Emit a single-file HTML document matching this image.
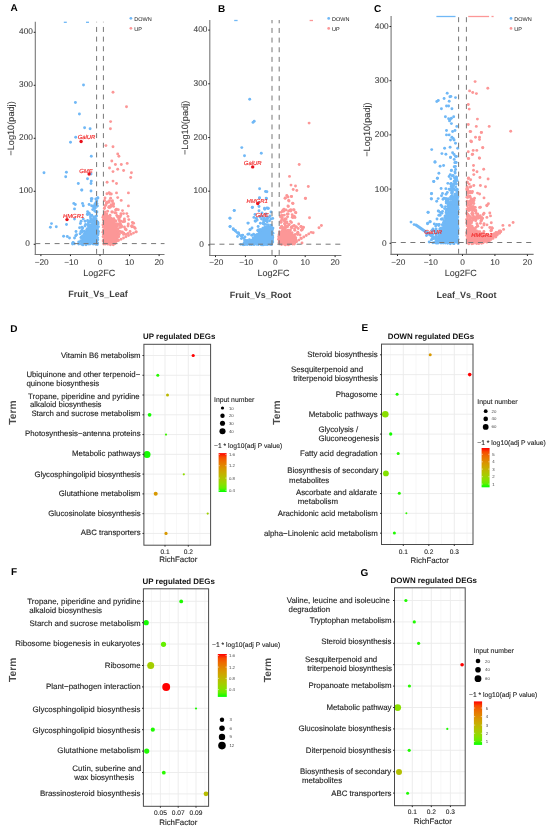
<!DOCTYPE html>
<html><head><meta charset="utf-8"><style>
html,body{margin:0;padding:0;background:#fff;}
svg{display:block;font-family:"Liberation Sans", sans-serif;filter:blur(0.3px);}
text{text-rendering:geometricPrecision;}

</style></head><body>
<svg width="550" height="829" viewBox="0 0 550 829">
<defs>
<linearGradient id="cb" x1="0" y1="0" x2="0" y2="1">
<stop offset="0.0" stop-color="#ff0000"/>
<stop offset="0.1" stop-color="#f74a00"/>
<stop offset="0.2" stop-color="#ed6a00"/>
<stop offset="0.3" stop-color="#e38200"/>
<stop offset="0.4" stop-color="#d79800"/>
<stop offset="0.5" stop-color="#c9ab00"/>
<stop offset="0.6" stop-color="#b8bd00"/>
<stop offset="0.7" stop-color="#a4ce00"/>
<stop offset="0.8" stop-color="#8adf00"/>
<stop offset="0.9" stop-color="#65ef00"/>
<stop offset="1.0" stop-color="#00ff00"/>
</linearGradient>
</defs>
<rect width="550" height="829" fill="#fff"/>
<rect x="63.80" y="21.65" width="3.00" height="1.30" fill="#70b8f6"/>
<rect x="86.00" y="21.65" width="3.00" height="1.30" fill="#70b8f6"/>
<circle cx="96.91" cy="203.60" r="1.45" fill="#70b8f6"/>
<circle cx="72.61" cy="243.94" r="1.45" fill="#70b8f6"/>
<circle cx="88.94" cy="213.25" r="1.45" fill="#70b8f6"/>
<circle cx="95.13" cy="207.89" r="1.45" fill="#70b8f6"/>
<circle cx="96.95" cy="212.01" r="1.45" fill="#70b8f6"/>
<circle cx="87.63" cy="240.81" r="1.45" fill="#70b8f6"/>
<circle cx="89.82" cy="240.42" r="1.45" fill="#70b8f6"/>
<circle cx="94.92" cy="224.71" r="1.45" fill="#70b8f6"/>
<circle cx="94.10" cy="224.39" r="1.45" fill="#70b8f6"/>
<circle cx="96.39" cy="233.38" r="1.45" fill="#70b8f6"/>
<circle cx="96.99" cy="223.62" r="1.45" fill="#70b8f6"/>
<circle cx="90.16" cy="225.78" r="1.45" fill="#70b8f6"/>
<circle cx="78.72" cy="241.97" r="1.45" fill="#70b8f6"/>
<circle cx="80.12" cy="233.71" r="1.45" fill="#70b8f6"/>
<circle cx="96.82" cy="227.59" r="1.45" fill="#70b8f6"/>
<circle cx="75.70" cy="235.79" r="1.45" fill="#70b8f6"/>
<circle cx="85.16" cy="221.31" r="1.45" fill="#70b8f6"/>
<circle cx="82.65" cy="228.07" r="1.45" fill="#70b8f6"/>
<circle cx="95.83" cy="211.44" r="1.45" fill="#70b8f6"/>
<circle cx="89.50" cy="221.83" r="1.45" fill="#70b8f6"/>
<circle cx="74.29" cy="243.83" r="1.45" fill="#70b8f6"/>
<circle cx="82.47" cy="240.69" r="1.45" fill="#70b8f6"/>
<circle cx="96.76" cy="221.06" r="1.45" fill="#70b8f6"/>
<circle cx="95.28" cy="205.06" r="1.45" fill="#70b8f6"/>
<circle cx="85.92" cy="234.41" r="1.45" fill="#70b8f6"/>
<circle cx="82.68" cy="235.92" r="1.45" fill="#70b8f6"/>
<circle cx="95.95" cy="218.65" r="1.45" fill="#70b8f6"/>
<circle cx="94.01" cy="220.43" r="1.45" fill="#70b8f6"/>
<circle cx="85.62" cy="224.47" r="1.45" fill="#70b8f6"/>
<circle cx="97.77" cy="231.95" r="1.45" fill="#70b8f6"/>
<circle cx="84.30" cy="231.18" r="1.45" fill="#70b8f6"/>
<circle cx="88.72" cy="213.63" r="1.45" fill="#70b8f6"/>
<circle cx="92.39" cy="235.53" r="1.45" fill="#70b8f6"/>
<circle cx="87.82" cy="241.31" r="1.45" fill="#70b8f6"/>
<circle cx="73.09" cy="242.46" r="1.45" fill="#70b8f6"/>
<circle cx="94.52" cy="205.49" r="1.45" fill="#70b8f6"/>
<circle cx="80.95" cy="231.54" r="1.45" fill="#70b8f6"/>
<circle cx="96.05" cy="236.21" r="1.45" fill="#70b8f6"/>
<circle cx="81.94" cy="232.26" r="1.45" fill="#70b8f6"/>
<circle cx="90.67" cy="218.83" r="1.45" fill="#70b8f6"/>
<circle cx="95.12" cy="227.36" r="1.45" fill="#70b8f6"/>
<circle cx="88.43" cy="243.32" r="1.45" fill="#70b8f6"/>
<circle cx="94.01" cy="207.97" r="1.45" fill="#70b8f6"/>
<circle cx="80.90" cy="237.60" r="1.45" fill="#70b8f6"/>
<circle cx="81.88" cy="227.09" r="1.45" fill="#70b8f6"/>
<circle cx="76.56" cy="234.72" r="1.45" fill="#70b8f6"/>
<circle cx="95.22" cy="222.92" r="1.45" fill="#70b8f6"/>
<circle cx="81.41" cy="236.88" r="1.45" fill="#70b8f6"/>
<circle cx="93.81" cy="220.96" r="1.45" fill="#70b8f6"/>
<circle cx="90.11" cy="235.42" r="1.45" fill="#70b8f6"/>
<circle cx="97.32" cy="205.95" r="1.45" fill="#70b8f6"/>
<circle cx="82.55" cy="238.09" r="1.45" fill="#70b8f6"/>
<circle cx="91.80" cy="215.18" r="1.45" fill="#70b8f6"/>
<circle cx="85.46" cy="242.57" r="1.45" fill="#70b8f6"/>
<circle cx="94.48" cy="225.12" r="1.45" fill="#70b8f6"/>
<circle cx="85.71" cy="233.09" r="1.45" fill="#70b8f6"/>
<circle cx="89.85" cy="234.91" r="1.45" fill="#70b8f6"/>
<circle cx="85.12" cy="241.10" r="1.45" fill="#70b8f6"/>
<circle cx="95.64" cy="216.36" r="1.45" fill="#70b8f6"/>
<circle cx="88.18" cy="231.77" r="1.45" fill="#70b8f6"/>
<circle cx="93.97" cy="220.87" r="1.45" fill="#70b8f6"/>
<circle cx="94.14" cy="218.51" r="1.45" fill="#70b8f6"/>
<circle cx="90.18" cy="221.70" r="1.45" fill="#70b8f6"/>
<circle cx="97.83" cy="197.70" r="1.45" fill="#70b8f6"/>
<circle cx="91.24" cy="224.66" r="1.45" fill="#70b8f6"/>
<circle cx="94.35" cy="208.21" r="1.45" fill="#70b8f6"/>
<circle cx="88.26" cy="224.50" r="1.45" fill="#70b8f6"/>
<circle cx="95.81" cy="199.05" r="1.45" fill="#70b8f6"/>
<circle cx="91.59" cy="205.74" r="1.45" fill="#70b8f6"/>
<circle cx="96.51" cy="223.59" r="1.45" fill="#70b8f6"/>
<circle cx="88.43" cy="222.63" r="1.45" fill="#70b8f6"/>
<circle cx="93.31" cy="219.57" r="1.45" fill="#70b8f6"/>
<circle cx="96.04" cy="202.53" r="1.45" fill="#70b8f6"/>
<circle cx="94.40" cy="223.59" r="1.45" fill="#70b8f6"/>
<circle cx="90.71" cy="215.45" r="1.45" fill="#70b8f6"/>
<circle cx="97.63" cy="198.20" r="1.45" fill="#70b8f6"/>
<circle cx="94.71" cy="211.03" r="1.45" fill="#70b8f6"/>
<circle cx="87.40" cy="214.19" r="1.45" fill="#70b8f6"/>
<circle cx="87.65" cy="214.61" r="1.45" fill="#70b8f6"/>
<circle cx="93.08" cy="206.52" r="1.45" fill="#70b8f6"/>
<circle cx="95.13" cy="206.91" r="1.45" fill="#70b8f6"/>
<circle cx="90.56" cy="220.61" r="1.45" fill="#70b8f6"/>
<circle cx="108.78" cy="230.04" r="1.45" fill="#fc9797"/>
<circle cx="124.10" cy="220.56" r="1.45" fill="#fc9797"/>
<circle cx="110.44" cy="234.67" r="1.45" fill="#fc9797"/>
<circle cx="103.50" cy="215.70" r="1.45" fill="#fc9797"/>
<circle cx="131.93" cy="226.72" r="1.45" fill="#fc9797"/>
<circle cx="104.51" cy="213.80" r="1.45" fill="#fc9797"/>
<circle cx="108.45" cy="235.79" r="1.45" fill="#fc9797"/>
<circle cx="107.47" cy="240.76" r="1.45" fill="#fc9797"/>
<circle cx="118.17" cy="223.84" r="1.45" fill="#fc9797"/>
<circle cx="114.58" cy="220.81" r="1.45" fill="#fc9797"/>
<circle cx="109.49" cy="200.67" r="1.45" fill="#fc9797"/>
<circle cx="128.01" cy="233.33" r="1.45" fill="#fc9797"/>
<circle cx="122.33" cy="231.84" r="1.45" fill="#fc9797"/>
<circle cx="107.39" cy="220.43" r="1.45" fill="#fc9797"/>
<circle cx="116.75" cy="215.43" r="1.45" fill="#fc9797"/>
<circle cx="118.11" cy="216.36" r="1.45" fill="#fc9797"/>
<circle cx="119.57" cy="221.12" r="1.45" fill="#fc9797"/>
<circle cx="121.34" cy="232.67" r="1.45" fill="#fc9797"/>
<circle cx="110.64" cy="226.40" r="1.45" fill="#fc9797"/>
<circle cx="121.54" cy="227.02" r="1.45" fill="#fc9797"/>
<circle cx="109.29" cy="206.65" r="1.45" fill="#fc9797"/>
<circle cx="114.75" cy="240.72" r="1.45" fill="#fc9797"/>
<circle cx="114.70" cy="225.88" r="1.45" fill="#fc9797"/>
<circle cx="113.40" cy="203.65" r="1.45" fill="#fc9797"/>
<circle cx="105.54" cy="235.62" r="1.45" fill="#fc9797"/>
<circle cx="125.68" cy="229.42" r="1.45" fill="#fc9797"/>
<circle cx="115.64" cy="210.12" r="1.45" fill="#fc9797"/>
<circle cx="105.66" cy="235.24" r="1.45" fill="#fc9797"/>
<circle cx="111.81" cy="212.04" r="1.45" fill="#fc9797"/>
<circle cx="105.66" cy="214.21" r="1.45" fill="#fc9797"/>
<circle cx="120.54" cy="231.79" r="1.45" fill="#fc9797"/>
<circle cx="104.32" cy="208.54" r="1.45" fill="#fc9797"/>
<circle cx="132.14" cy="226.06" r="1.45" fill="#fc9797"/>
<circle cx="117.29" cy="225.15" r="1.45" fill="#fc9797"/>
<circle cx="104.17" cy="225.72" r="1.45" fill="#fc9797"/>
<circle cx="106.49" cy="203.23" r="1.45" fill="#fc9797"/>
<circle cx="104.23" cy="219.11" r="1.45" fill="#fc9797"/>
<circle cx="107.99" cy="238.03" r="1.45" fill="#fc9797"/>
<circle cx="120.96" cy="213.59" r="1.45" fill="#fc9797"/>
<circle cx="108.81" cy="207.28" r="1.45" fill="#fc9797"/>
<circle cx="115.72" cy="230.95" r="1.45" fill="#fc9797"/>
<circle cx="103.66" cy="219.87" r="1.45" fill="#fc9797"/>
<circle cx="105.47" cy="233.38" r="1.45" fill="#fc9797"/>
<circle cx="109.11" cy="231.02" r="1.45" fill="#fc9797"/>
<circle cx="111.64" cy="230.35" r="1.45" fill="#fc9797"/>
<circle cx="116.08" cy="212.92" r="1.45" fill="#fc9797"/>
<circle cx="119.80" cy="223.72" r="1.45" fill="#fc9797"/>
<circle cx="123.00" cy="221.87" r="1.45" fill="#fc9797"/>
<circle cx="113.51" cy="230.48" r="1.45" fill="#fc9797"/>
<circle cx="120.54" cy="224.23" r="1.45" fill="#fc9797"/>
<circle cx="105.48" cy="235.66" r="1.45" fill="#fc9797"/>
<circle cx="106.91" cy="202.42" r="1.45" fill="#fc9797"/>
<circle cx="105.79" cy="235.64" r="1.45" fill="#fc9797"/>
<circle cx="124.42" cy="218.92" r="1.45" fill="#fc9797"/>
<circle cx="120.27" cy="216.52" r="1.45" fill="#fc9797"/>
<circle cx="116.49" cy="209.15" r="1.45" fill="#fc9797"/>
<circle cx="104.99" cy="218.53" r="1.45" fill="#fc9797"/>
<circle cx="111.45" cy="230.69" r="1.45" fill="#fc9797"/>
<circle cx="130.04" cy="231.57" r="1.45" fill="#fc9797"/>
<circle cx="118.27" cy="209.64" r="1.45" fill="#fc9797"/>
<circle cx="115.96" cy="220.91" r="1.45" fill="#fc9797"/>
<circle cx="106.18" cy="220.59" r="1.45" fill="#fc9797"/>
<circle cx="119.44" cy="231.27" r="1.45" fill="#fc9797"/>
<circle cx="123.83" cy="233.13" r="1.45" fill="#fc9797"/>
<circle cx="126.19" cy="229.73" r="1.45" fill="#fc9797"/>
<circle cx="131.70" cy="226.05" r="1.45" fill="#fc9797"/>
<circle cx="109.28" cy="206.89" r="1.45" fill="#fc9797"/>
<circle cx="110.16" cy="207.29" r="1.45" fill="#fc9797"/>
<circle cx="119.09" cy="217.90" r="1.45" fill="#fc9797"/>
<circle cx="123.53" cy="213.60" r="1.45" fill="#fc9797"/>
<circle cx="120.90" cy="215.10" r="1.45" fill="#fc9797"/>
<circle cx="117.91" cy="217.28" r="1.45" fill="#fc9797"/>
<circle cx="108.86" cy="202.29" r="1.45" fill="#fc9797"/>
<circle cx="106.90" cy="193.75" r="1.45" fill="#fc9797"/>
<circle cx="104.59" cy="200.47" r="1.45" fill="#fc9797"/>
<circle cx="120.93" cy="221.19" r="1.45" fill="#fc9797"/>
<circle cx="113.52" cy="204.05" r="1.45" fill="#fc9797"/>
<circle cx="112.23" cy="201.58" r="1.45" fill="#fc9797"/>
<circle cx="111.31" cy="194.07" r="1.45" fill="#fc9797"/>
<circle cx="120.09" cy="224.91" r="1.45" fill="#fc9797"/>
<circle cx="121.54" cy="225.93" r="1.45" fill="#fc9797"/>
<circle cx="105.11" cy="205.82" r="1.45" fill="#fc9797"/>
<circle cx="124.43" cy="227.00" r="1.45" fill="#fc9797"/>
<circle cx="128.03" cy="226.06" r="1.45" fill="#fc9797"/>
<circle cx="119.88" cy="227.55" r="1.45" fill="#fc9797"/>
<circle cx="109.32" cy="192.88" r="1.45" fill="#fc9797"/>
<circle cx="131.97" cy="226.12" r="1.45" fill="#fc9797"/>
<circle cx="110.01" cy="193.93" r="1.45" fill="#fc9797"/>
<circle cx="120.04" cy="220.89" r="1.45" fill="#fc9797"/>
<circle cx="111.14" cy="206.03" r="1.45" fill="#fc9797"/>
<circle cx="128.30" cy="224.02" r="1.45" fill="#fc9797"/>
<circle cx="124.61" cy="221.53" r="1.45" fill="#fc9797"/>
<circle cx="112.43" cy="205.57" r="1.45" fill="#fc9797"/>
<circle cx="120.23" cy="221.41" r="1.45" fill="#fc9797"/>
<circle cx="106.72" cy="213.99" r="1.45" fill="#fc9797"/>
<polygon points="98.00,244.40 79.00,244.40 82.00,239.00 85.00,233.00 88.00,227.00 92.00,223.00 98.00,221.00" fill="#70b8f6"/>
<circle cx="97.27" cy="244.55" r="1.45" fill="#70b8f6"/>
<circle cx="95.57" cy="244.27" r="1.45" fill="#70b8f6"/>
<circle cx="93.19" cy="243.94" r="1.45" fill="#70b8f6"/>
<circle cx="89.93" cy="243.99" r="1.45" fill="#70b8f6"/>
<circle cx="88.32" cy="244.02" r="1.45" fill="#70b8f6"/>
<circle cx="85.99" cy="244.85" r="1.45" fill="#70b8f6"/>
<circle cx="82.96" cy="244.88" r="1.45" fill="#70b8f6"/>
<circle cx="81.68" cy="244.19" r="1.45" fill="#70b8f6"/>
<circle cx="78.73" cy="244.01" r="1.45" fill="#70b8f6"/>
<circle cx="80.79" cy="240.68" r="1.45" fill="#70b8f6"/>
<circle cx="82.19" cy="238.41" r="1.45" fill="#70b8f6"/>
<circle cx="82.59" cy="236.64" r="1.45" fill="#70b8f6"/>
<circle cx="84.27" cy="234.13" r="1.45" fill="#70b8f6"/>
<circle cx="85.25" cy="232.21" r="1.45" fill="#70b8f6"/>
<circle cx="86.60" cy="229.95" r="1.45" fill="#70b8f6"/>
<circle cx="87.31" cy="228.80" r="1.45" fill="#70b8f6"/>
<circle cx="88.52" cy="226.75" r="1.45" fill="#70b8f6"/>
<circle cx="90.04" cy="225.14" r="1.45" fill="#70b8f6"/>
<circle cx="92.22" cy="222.46" r="1.45" fill="#70b8f6"/>
<circle cx="96.27" cy="221.74" r="1.45" fill="#70b8f6"/>
<circle cx="97.81" cy="222.22" r="1.45" fill="#70b8f6"/>
<circle cx="98.08" cy="223.99" r="1.45" fill="#70b8f6"/>
<circle cx="98.44" cy="226.64" r="1.45" fill="#70b8f6"/>
<circle cx="97.56" cy="229.00" r="1.45" fill="#70b8f6"/>
<circle cx="98.49" cy="231.44" r="1.45" fill="#70b8f6"/>
<circle cx="97.89" cy="233.20" r="1.45" fill="#70b8f6"/>
<circle cx="97.96" cy="234.73" r="1.45" fill="#70b8f6"/>
<circle cx="97.56" cy="237.79" r="1.45" fill="#70b8f6"/>
<circle cx="97.75" cy="239.76" r="1.45" fill="#70b8f6"/>
<circle cx="97.58" cy="243.03" r="1.45" fill="#70b8f6"/>
<polygon points="103.40,244.40 103.40,216.00 106.00,214.00 110.00,215.50 113.00,218.00 116.00,223.00 118.00,229.00 119.50,236.00 117.00,241.00 114.00,244.40" fill="#fc9797"/>
<circle cx="103.78" cy="244.07" r="1.45" fill="#fc9797"/>
<circle cx="103.18" cy="240.93" r="1.45" fill="#fc9797"/>
<circle cx="103.78" cy="239.70" r="1.45" fill="#fc9797"/>
<circle cx="103.08" cy="236.85" r="1.45" fill="#fc9797"/>
<circle cx="103.38" cy="234.75" r="1.45" fill="#fc9797"/>
<circle cx="102.90" cy="232.17" r="1.45" fill="#fc9797"/>
<circle cx="103.47" cy="230.22" r="1.45" fill="#fc9797"/>
<circle cx="103.42" cy="227.13" r="1.45" fill="#fc9797"/>
<circle cx="102.95" cy="225.07" r="1.45" fill="#fc9797"/>
<circle cx="103.77" cy="222.47" r="1.45" fill="#fc9797"/>
<circle cx="103.30" cy="219.87" r="1.45" fill="#fc9797"/>
<circle cx="102.96" cy="217.18" r="1.45" fill="#fc9797"/>
<circle cx="103.33" cy="215.63" r="1.45" fill="#fc9797"/>
<circle cx="105.61" cy="213.69" r="1.45" fill="#fc9797"/>
<circle cx="110.02" cy="215.15" r="1.45" fill="#fc9797"/>
<circle cx="113.77" cy="218.74" r="1.45" fill="#fc9797"/>
<circle cx="114.54" cy="220.68" r="1.45" fill="#fc9797"/>
<circle cx="116.41" cy="223.68" r="1.45" fill="#fc9797"/>
<circle cx="117.22" cy="226.28" r="1.45" fill="#fc9797"/>
<circle cx="117.87" cy="228.88" r="1.45" fill="#fc9797"/>
<circle cx="118.37" cy="231.82" r="1.45" fill="#fc9797"/>
<circle cx="119.27" cy="234.42" r="1.45" fill="#fc9797"/>
<circle cx="118.69" cy="236.71" r="1.45" fill="#fc9797"/>
<circle cx="118.00" cy="239.92" r="1.45" fill="#fc9797"/>
<circle cx="116.67" cy="240.89" r="1.45" fill="#fc9797"/>
<circle cx="114.95" cy="243.64" r="1.45" fill="#fc9797"/>
<circle cx="113.29" cy="244.71" r="1.45" fill="#fc9797"/>
<circle cx="110.40" cy="244.71" r="1.45" fill="#fc9797"/>
<circle cx="107.86" cy="244.13" r="1.45" fill="#fc9797"/>
<circle cx="105.22" cy="243.93" r="1.45" fill="#fc9797"/>
<circle cx="70.50" cy="142.20" r="1.45" fill="#70b8f6"/>
<circle cx="75.70" cy="137.20" r="1.45" fill="#70b8f6"/>
<circle cx="84.60" cy="127.70" r="1.45" fill="#70b8f6"/>
<circle cx="90.10" cy="128.70" r="1.45" fill="#70b8f6"/>
<circle cx="79.40" cy="114.00" r="1.45" fill="#70b8f6"/>
<circle cx="75.40" cy="102.50" r="1.45" fill="#70b8f6"/>
<circle cx="83.50" cy="85.00" r="1.45" fill="#70b8f6"/>
<circle cx="91.30" cy="156.30" r="1.45" fill="#70b8f6"/>
<circle cx="44.00" cy="172.80" r="1.45" fill="#70b8f6"/>
<circle cx="66.40" cy="172.30" r="1.45" fill="#70b8f6"/>
<circle cx="65.70" cy="176.80" r="1.45" fill="#70b8f6"/>
<circle cx="87.50" cy="178.70" r="1.45" fill="#70b8f6"/>
<circle cx="91.00" cy="174.00" r="1.45" fill="#70b8f6"/>
<circle cx="91.30" cy="181.10" r="1.45" fill="#70b8f6"/>
<circle cx="91.00" cy="183.50" r="1.45" fill="#70b8f6"/>
<circle cx="78.30" cy="183.50" r="1.45" fill="#70b8f6"/>
<circle cx="81.80" cy="190.10" r="1.45" fill="#70b8f6"/>
<circle cx="91.00" cy="191.00" r="1.45" fill="#70b8f6"/>
<circle cx="91.30" cy="198.80" r="1.45" fill="#70b8f6"/>
<circle cx="73.80" cy="203.40" r="1.45" fill="#70b8f6"/>
<circle cx="75.30" cy="204.50" r="1.45" fill="#70b8f6"/>
<circle cx="74.50" cy="208.90" r="1.45" fill="#70b8f6"/>
<circle cx="82.50" cy="203.40" r="1.45" fill="#70b8f6"/>
<circle cx="83.30" cy="205.70" r="1.45" fill="#70b8f6"/>
<circle cx="89.10" cy="204.50" r="1.45" fill="#70b8f6"/>
<circle cx="91.30" cy="200.90" r="1.45" fill="#70b8f6"/>
<circle cx="92.00" cy="198.70" r="1.45" fill="#70b8f6"/>
<circle cx="81.80" cy="190.00" r="1.45" fill="#70b8f6"/>
<circle cx="94.90" cy="208.20" r="1.45" fill="#70b8f6"/>
<circle cx="92.70" cy="209.60" r="1.45" fill="#70b8f6"/>
<circle cx="87.60" cy="211.80" r="1.45" fill="#70b8f6"/>
<circle cx="89.10" cy="213.30" r="1.45" fill="#70b8f6"/>
<circle cx="93.50" cy="216.90" r="1.45" fill="#70b8f6"/>
<circle cx="90.50" cy="216.90" r="1.45" fill="#70b8f6"/>
<circle cx="83.30" cy="219.10" r="1.45" fill="#70b8f6"/>
<circle cx="81.10" cy="221.30" r="1.45" fill="#70b8f6"/>
<circle cx="87.60" cy="220.50" r="1.45" fill="#70b8f6"/>
<circle cx="74.50" cy="219.10" r="1.45" fill="#70b8f6"/>
<circle cx="66.50" cy="224.50" r="1.45" fill="#70b8f6"/>
<circle cx="80.40" cy="223.50" r="1.45" fill="#70b8f6"/>
<circle cx="79.60" cy="227.80" r="1.45" fill="#70b8f6"/>
<circle cx="76.00" cy="231.50" r="1.45" fill="#70b8f6"/>
<circle cx="63.60" cy="236.30" r="1.45" fill="#70b8f6"/>
<circle cx="67.30" cy="236.50" r="1.45" fill="#70b8f6"/>
<circle cx="69.50" cy="238.00" r="1.45" fill="#70b8f6"/>
<circle cx="74.50" cy="238.00" r="1.45" fill="#70b8f6"/>
<circle cx="73.80" cy="243.10" r="1.45" fill="#70b8f6"/>
<circle cx="51.50" cy="223.60" r="1.45" fill="#70b8f6"/>
<circle cx="50.40" cy="227.20" r="1.45" fill="#70b8f6"/>
<circle cx="56.30" cy="226.70" r="1.45" fill="#70b8f6"/>
<circle cx="72.80" cy="243.30" r="1.45" fill="#70b8f6"/>
<circle cx="96.50" cy="212.00" r="1.45" fill="#70b8f6"/>
<circle cx="96.50" cy="216.00" r="1.45" fill="#70b8f6"/>
<circle cx="95.50" cy="219.00" r="1.45" fill="#70b8f6"/>
<circle cx="92.00" cy="220.00" r="1.45" fill="#70b8f6"/>
<circle cx="85.00" cy="226.00" r="1.45" fill="#70b8f6"/>
<circle cx="82.00" cy="230.00" r="1.45" fill="#70b8f6"/>
<circle cx="88.00" cy="225.00" r="1.45" fill="#70b8f6"/>
<circle cx="97.00" cy="206.00" r="1.45" fill="#70b8f6"/>
<circle cx="95.00" cy="204.00" r="1.45" fill="#70b8f6"/>
<circle cx="96.80" cy="201.00" r="1.45" fill="#70b8f6"/>
<circle cx="113.50" cy="243.00" r="1.45" fill="#fc9797"/>
<circle cx="116.00" cy="241.76" r="1.45" fill="#fc9797"/>
<circle cx="118.50" cy="240.52" r="1.45" fill="#fc9797"/>
<circle cx="121.00" cy="239.28" r="1.45" fill="#fc9797"/>
<circle cx="123.50" cy="238.04" r="1.45" fill="#fc9797"/>
<circle cx="126.00" cy="236.80" r="1.45" fill="#fc9797"/>
<circle cx="128.50" cy="235.56" r="1.45" fill="#fc9797"/>
<circle cx="131.00" cy="234.32" r="1.45" fill="#fc9797"/>
<circle cx="133.50" cy="233.08" r="1.45" fill="#fc9797"/>
<circle cx="136.00" cy="231.84" r="1.45" fill="#fc9797"/>
<circle cx="113.00" cy="92.30" r="1.45" fill="#fc9797"/>
<circle cx="126.50" cy="106.70" r="1.45" fill="#fc9797"/>
<circle cx="110.60" cy="121.60" r="1.45" fill="#fc9797"/>
<circle cx="110.40" cy="128.70" r="1.45" fill="#fc9797"/>
<circle cx="105.90" cy="145.60" r="1.45" fill="#fc9797"/>
<circle cx="113.00" cy="146.80" r="1.45" fill="#fc9797"/>
<circle cx="117.70" cy="153.90" r="1.45" fill="#fc9797"/>
<circle cx="118.90" cy="156.30" r="1.45" fill="#fc9797"/>
<circle cx="111.80" cy="161.00" r="1.45" fill="#fc9797"/>
<circle cx="115.40" cy="164.50" r="1.45" fill="#fc9797"/>
<circle cx="121.30" cy="164.50" r="1.45" fill="#fc9797"/>
<circle cx="127.20" cy="163.40" r="1.45" fill="#fc9797"/>
<circle cx="109.50" cy="168.00" r="1.45" fill="#fc9797"/>
<circle cx="113.00" cy="171.60" r="1.45" fill="#fc9797"/>
<circle cx="117.70" cy="169.30" r="1.45" fill="#fc9797"/>
<circle cx="123.60" cy="170.50" r="1.45" fill="#fc9797"/>
<circle cx="131.40" cy="172.80" r="1.45" fill="#fc9797"/>
<circle cx="130.70" cy="177.50" r="1.45" fill="#fc9797"/>
<circle cx="113.00" cy="181.10" r="1.45" fill="#fc9797"/>
<circle cx="107.10" cy="182.30" r="1.45" fill="#fc9797"/>
<circle cx="116.50" cy="183.50" r="1.45" fill="#fc9797"/>
<circle cx="109.00" cy="192.90" r="1.45" fill="#fc9797"/>
<circle cx="116.50" cy="192.90" r="1.45" fill="#fc9797"/>
<circle cx="128.40" cy="192.90" r="1.45" fill="#fc9797"/>
<circle cx="110.60" cy="198.30" r="1.45" fill="#fc9797"/>
<circle cx="117.70" cy="197.60" r="1.45" fill="#fc9797"/>
<circle cx="128.40" cy="205.90" r="1.45" fill="#fc9797"/>
<circle cx="122.50" cy="210.60" r="1.45" fill="#fc9797"/>
<circle cx="132.40" cy="222.50" r="1.45" fill="#fc9797"/>
<circle cx="134.30" cy="227.20" r="1.45" fill="#fc9797"/>
<circle cx="136.20" cy="231.90" r="1.45" fill="#fc9797"/>
<circle cx="106.80" cy="202.40" r="1.45" fill="#fc9797"/>
<circle cx="107.60" cy="202.00" r="1.45" fill="#fc9797"/>
<circle cx="112.40" cy="200.80" r="1.45" fill="#fc9797"/>
<circle cx="121.20" cy="200.40" r="1.45" fill="#fc9797"/>
<circle cx="111.20" cy="204.80" r="1.45" fill="#fc9797"/>
<circle cx="109.20" cy="207.20" r="1.45" fill="#fc9797"/>
<circle cx="113.60" cy="206.40" r="1.45" fill="#fc9797"/>
<circle cx="116.00" cy="209.60" r="1.45" fill="#fc9797"/>
<circle cx="107.60" cy="211.20" r="1.45" fill="#fc9797"/>
<circle cx="112.40" cy="212.00" r="1.45" fill="#fc9797"/>
<circle cx="114.80" cy="212.80" r="1.45" fill="#fc9797"/>
<circle cx="126.80" cy="213.60" r="1.45" fill="#fc9797"/>
<circle cx="128.00" cy="216.40" r="1.45" fill="#fc9797"/>
<circle cx="128.80" cy="219.60" r="1.45" fill="#fc9797"/>
<circle cx="119.60" cy="217.20" r="1.45" fill="#fc9797"/>
<circle cx="118.80" cy="219.60" r="1.45" fill="#fc9797"/>
<circle cx="133.60" cy="223.20" r="1.45" fill="#fc9797"/>
<circle cx="121.20" cy="226.00" r="1.45" fill="#fc9797"/>
<circle cx="125.20" cy="228.80" r="1.45" fill="#fc9797"/>
<circle cx="135.20" cy="228.40" r="1.45" fill="#fc9797"/>
<circle cx="117.20" cy="230.00" r="1.45" fill="#fc9797"/>
<circle cx="123.60" cy="234.40" r="1.45" fill="#fc9797"/>
<circle cx="126.00" cy="234.40" r="1.45" fill="#fc9797"/>
<circle cx="118.40" cy="234.40" r="1.45" fill="#fc9797"/>
<circle cx="115.20" cy="238.00" r="1.45" fill="#fc9797"/>
<circle cx="104.50" cy="208.00" r="1.45" fill="#fc9797"/>
<circle cx="104.80" cy="212.00" r="1.45" fill="#fc9797"/>
<circle cx="106.00" cy="205.00" r="1.45" fill="#fc9797"/>
<circle cx="105.00" cy="198.00" r="1.45" fill="#fc9797"/>
<circle cx="81.10" cy="141.50" r="1.7" fill="#e8101a"/>
<text x="86.50" y="139.40" font-size="5.9" text-anchor="middle" font-style="italic" fill="#f22828" stroke="#f22828" stroke-width="0.14">GalUR</text>
<circle cx="89.10" cy="174.00" r="1.7" fill="#e8101a"/>
<text x="86.00" y="172.60" font-size="5.9" text-anchor="middle" font-style="italic" fill="#f22828" stroke="#f22828" stroke-width="0.14">GME</text>
<circle cx="67.00" cy="219.60" r="1.7" fill="#e8101a"/>
<text x="73.60" y="217.50" font-size="5.9" text-anchor="middle" font-style="italic" fill="#f22828" stroke="#f22828" stroke-width="0.14">HMGR1</text>
<line x1="96.60" y1="254.50" x2="96.60" y2="21.80" stroke="#777" stroke-width="1.0" stroke-dasharray="5.0 4.65" stroke-dashoffset="9.05"/>
<line x1="103.40" y1="254.50" x2="103.40" y2="21.80" stroke="#777" stroke-width="1.0" stroke-dasharray="5.0 4.65" stroke-dashoffset="9.05"/>
<line x1="35.30" y1="243.60" x2="164.50" y2="243.60" stroke="#777" stroke-width="1.0" stroke-dasharray="5.0 4.65"/>
<line x1="35.30" y1="21.80" x2="35.30" y2="255.00" stroke="#777" stroke-width="1.1"/>
<line x1="34.80" y1="254.50" x2="164.50" y2="254.50" stroke="#777" stroke-width="1.1"/>
<line x1="33.70" y1="244.30" x2="35.30" y2="244.30" stroke="#222" stroke-width="1.0"/>
<text x="29.90" y="245.90" font-size="8.3" stroke="#3c3c3c" stroke-width="0.08" text-anchor="end" fill="#3c3c3c">0</text>
<line x1="33.70" y1="191.30" x2="35.30" y2="191.30" stroke="#222" stroke-width="1.0"/>
<text x="32.90" y="192.90" font-size="8.3" stroke="#3c3c3c" stroke-width="0.08" text-anchor="end" fill="#3c3c3c">100</text>
<line x1="33.70" y1="138.30" x2="35.30" y2="138.30" stroke="#222" stroke-width="1.0"/>
<text x="32.90" y="139.90" font-size="8.3" stroke="#3c3c3c" stroke-width="0.08" text-anchor="end" fill="#3c3c3c">200</text>
<line x1="33.70" y1="85.30" x2="35.30" y2="85.30" stroke="#222" stroke-width="1.0"/>
<text x="32.90" y="86.90" font-size="8.3" stroke="#3c3c3c" stroke-width="0.08" text-anchor="end" fill="#3c3c3c">300</text>
<line x1="33.70" y1="32.30" x2="35.30" y2="32.30" stroke="#222" stroke-width="1.0"/>
<text x="32.90" y="33.90" font-size="8.3" stroke="#3c3c3c" stroke-width="0.08" text-anchor="end" fill="#3c3c3c">400</text>
<line x1="40.90" y1="254.50" x2="40.90" y2="256.10" stroke="#222" stroke-width="1.0"/>
<text x="41.70" y="264.60" font-size="8.3" stroke="#3c3c3c" stroke-width="0.08" text-anchor="middle" fill="#3c3c3c">−20</text>
<line x1="70.45" y1="254.50" x2="70.45" y2="256.10" stroke="#222" stroke-width="1.0"/>
<text x="71.25" y="264.60" font-size="8.3" stroke="#3c3c3c" stroke-width="0.08" text-anchor="middle" fill="#3c3c3c">−10</text>
<line x1="100.00" y1="254.50" x2="100.00" y2="256.10" stroke="#222" stroke-width="1.0"/>
<text x="100.00" y="264.60" font-size="8.3" stroke="#3c3c3c" stroke-width="0.08" text-anchor="middle" fill="#3c3c3c">0</text>
<line x1="129.55" y1="254.50" x2="129.55" y2="256.10" stroke="#222" stroke-width="1.0"/>
<text x="129.55" y="264.60" font-size="8.3" stroke="#3c3c3c" stroke-width="0.08" text-anchor="middle" fill="#3c3c3c">10</text>
<line x1="159.10" y1="254.50" x2="159.10" y2="256.10" stroke="#222" stroke-width="1.0"/>
<text x="159.10" y="264.60" font-size="8.3" stroke="#3c3c3c" stroke-width="0.08" text-anchor="middle" fill="#3c3c3c">20</text>
<text x="99.30" y="275.50" font-size="9.0" stroke="#3c3c3c" stroke-width="0.08" text-anchor="middle" fill="#3c3c3c">Log2FC</text>
<text x="13.90" y="128.50" font-size="9.2" stroke="#3c3c3c" stroke-width="0.08" text-anchor="middle" fill="#3c3c3c" transform="rotate(-90 13.90 128.50)">−Log10(padj)</text>
<circle cx="130.90" cy="18.30" r="1.4" fill="#70b8f6"/>
<text x="134.20" y="20.80" font-size="5.5" fill="#111">DOWN</text>
<circle cx="130.90" cy="28.30" r="1.4" fill="#fc9797"/>
<text x="134.20" y="30.80" font-size="5.5" fill="#111">UP</text>
<text x="10.40" y="11.40" font-size="10.0" font-weight="bold" fill="#000">A</text>
<text x="98.10" y="297.30" font-size="9.0" text-anchor="middle" font-weight="bold" fill="#404040">Fruit_Vs_Leaf</text>
<rect x="234.20" y="19.85" width="3.40" height="1.30" fill="#70b8f6"/>
<rect x="309.60" y="19.85" width="3.40" height="1.30" fill="#fc9797"/>
<circle cx="253.57" cy="234.23" r="1.45" fill="#70b8f6"/>
<circle cx="262.19" cy="216.44" r="1.45" fill="#70b8f6"/>
<circle cx="258.14" cy="226.55" r="1.45" fill="#70b8f6"/>
<circle cx="254.20" cy="244.38" r="1.45" fill="#70b8f6"/>
<circle cx="271.07" cy="225.10" r="1.45" fill="#70b8f6"/>
<circle cx="252.68" cy="243.04" r="1.45" fill="#70b8f6"/>
<circle cx="259.72" cy="229.79" r="1.45" fill="#70b8f6"/>
<circle cx="271.52" cy="239.26" r="1.45" fill="#70b8f6"/>
<circle cx="267.77" cy="244.14" r="1.45" fill="#70b8f6"/>
<circle cx="268.79" cy="233.16" r="1.45" fill="#70b8f6"/>
<circle cx="264.35" cy="218.30" r="1.45" fill="#70b8f6"/>
<circle cx="261.51" cy="219.12" r="1.45" fill="#70b8f6"/>
<circle cx="261.70" cy="239.18" r="1.45" fill="#70b8f6"/>
<circle cx="271.76" cy="243.73" r="1.45" fill="#70b8f6"/>
<circle cx="272.79" cy="237.67" r="1.45" fill="#70b8f6"/>
<circle cx="260.96" cy="229.74" r="1.45" fill="#70b8f6"/>
<circle cx="247.17" cy="241.93" r="1.45" fill="#70b8f6"/>
<circle cx="260.24" cy="234.60" r="1.45" fill="#70b8f6"/>
<circle cx="270.12" cy="233.10" r="1.45" fill="#70b8f6"/>
<circle cx="272.73" cy="218.40" r="1.45" fill="#70b8f6"/>
<circle cx="255.55" cy="238.02" r="1.45" fill="#70b8f6"/>
<circle cx="255.23" cy="237.64" r="1.45" fill="#70b8f6"/>
<circle cx="244.16" cy="243.95" r="1.45" fill="#70b8f6"/>
<circle cx="251.73" cy="235.19" r="1.45" fill="#70b8f6"/>
<circle cx="268.33" cy="227.46" r="1.45" fill="#70b8f6"/>
<circle cx="256.94" cy="237.62" r="1.45" fill="#70b8f6"/>
<circle cx="260.61" cy="232.68" r="1.45" fill="#70b8f6"/>
<circle cx="263.17" cy="243.63" r="1.45" fill="#70b8f6"/>
<circle cx="265.56" cy="220.28" r="1.45" fill="#70b8f6"/>
<circle cx="265.50" cy="244.01" r="1.45" fill="#70b8f6"/>
<circle cx="267.26" cy="221.71" r="1.45" fill="#70b8f6"/>
<circle cx="263.24" cy="229.04" r="1.45" fill="#70b8f6"/>
<circle cx="268.51" cy="225.05" r="1.45" fill="#70b8f6"/>
<circle cx="257.77" cy="235.31" r="1.45" fill="#70b8f6"/>
<circle cx="255.77" cy="235.30" r="1.45" fill="#70b8f6"/>
<circle cx="265.15" cy="228.28" r="1.45" fill="#70b8f6"/>
<circle cx="269.54" cy="220.82" r="1.45" fill="#70b8f6"/>
<circle cx="266.60" cy="233.71" r="1.45" fill="#70b8f6"/>
<circle cx="271.18" cy="218.92" r="1.45" fill="#70b8f6"/>
<circle cx="266.60" cy="227.96" r="1.45" fill="#70b8f6"/>
<circle cx="264.40" cy="224.35" r="1.45" fill="#70b8f6"/>
<circle cx="271.80" cy="228.35" r="1.45" fill="#70b8f6"/>
<circle cx="265.81" cy="230.45" r="1.45" fill="#70b8f6"/>
<circle cx="262.59" cy="232.78" r="1.45" fill="#70b8f6"/>
<circle cx="271.52" cy="226.67" r="1.45" fill="#70b8f6"/>
<circle cx="267.13" cy="217.46" r="1.45" fill="#70b8f6"/>
<circle cx="256.00" cy="235.58" r="1.45" fill="#70b8f6"/>
<circle cx="270.96" cy="230.75" r="1.45" fill="#70b8f6"/>
<circle cx="260.42" cy="223.28" r="1.45" fill="#70b8f6"/>
<circle cx="268.30" cy="226.75" r="1.45" fill="#70b8f6"/>
<circle cx="266.64" cy="224.61" r="1.45" fill="#70b8f6"/>
<circle cx="263.43" cy="222.52" r="1.45" fill="#70b8f6"/>
<circle cx="264.59" cy="231.49" r="1.45" fill="#70b8f6"/>
<circle cx="263.56" cy="222.96" r="1.45" fill="#70b8f6"/>
<circle cx="268.89" cy="217.33" r="1.45" fill="#70b8f6"/>
<circle cx="264.65" cy="224.32" r="1.45" fill="#70b8f6"/>
<circle cx="260.61" cy="233.67" r="1.45" fill="#70b8f6"/>
<circle cx="267.50" cy="218.43" r="1.45" fill="#70b8f6"/>
<circle cx="263.81" cy="227.86" r="1.45" fill="#70b8f6"/>
<circle cx="265.71" cy="230.32" r="1.45" fill="#70b8f6"/>
<circle cx="263.24" cy="223.86" r="1.45" fill="#70b8f6"/>
<circle cx="264.02" cy="220.47" r="1.45" fill="#70b8f6"/>
<circle cx="262.07" cy="231.86" r="1.45" fill="#70b8f6"/>
<circle cx="258.30" cy="229.95" r="1.45" fill="#70b8f6"/>
<circle cx="266.07" cy="221.01" r="1.45" fill="#70b8f6"/>
<circle cx="266.10" cy="230.97" r="1.45" fill="#70b8f6"/>
<circle cx="272.20" cy="232.46" r="1.45" fill="#70b8f6"/>
<circle cx="262.72" cy="232.00" r="1.45" fill="#70b8f6"/>
<circle cx="268.36" cy="227.32" r="1.45" fill="#70b8f6"/>
<circle cx="264.10" cy="232.86" r="1.45" fill="#70b8f6"/>
<circle cx="281.01" cy="215.69" r="1.45" fill="#fc9797"/>
<circle cx="286.88" cy="240.41" r="1.45" fill="#fc9797"/>
<circle cx="291.90" cy="233.93" r="1.45" fill="#fc9797"/>
<circle cx="281.61" cy="226.32" r="1.45" fill="#fc9797"/>
<circle cx="300.92" cy="226.82" r="1.45" fill="#fc9797"/>
<circle cx="279.24" cy="234.30" r="1.45" fill="#fc9797"/>
<circle cx="300.91" cy="238.12" r="1.45" fill="#fc9797"/>
<circle cx="281.12" cy="212.35" r="1.45" fill="#fc9797"/>
<circle cx="288.18" cy="213.88" r="1.45" fill="#fc9797"/>
<circle cx="287.05" cy="241.44" r="1.45" fill="#fc9797"/>
<circle cx="283.35" cy="237.32" r="1.45" fill="#fc9797"/>
<circle cx="298.20" cy="228.47" r="1.45" fill="#fc9797"/>
<circle cx="293.97" cy="235.73" r="1.45" fill="#fc9797"/>
<circle cx="294.26" cy="216.25" r="1.45" fill="#fc9797"/>
<circle cx="287.57" cy="216.78" r="1.45" fill="#fc9797"/>
<circle cx="289.42" cy="243.54" r="1.45" fill="#fc9797"/>
<circle cx="290.10" cy="210.51" r="1.45" fill="#fc9797"/>
<circle cx="291.40" cy="237.26" r="1.45" fill="#fc9797"/>
<circle cx="290.58" cy="233.28" r="1.45" fill="#fc9797"/>
<circle cx="286.85" cy="221.85" r="1.45" fill="#fc9797"/>
<circle cx="284.03" cy="209.31" r="1.45" fill="#fc9797"/>
<circle cx="279.18" cy="242.26" r="1.45" fill="#fc9797"/>
<circle cx="291.78" cy="242.36" r="1.45" fill="#fc9797"/>
<circle cx="301.43" cy="230.25" r="1.45" fill="#fc9797"/>
<circle cx="292.65" cy="226.31" r="1.45" fill="#fc9797"/>
<circle cx="284.86" cy="221.54" r="1.45" fill="#fc9797"/>
<circle cx="301.10" cy="226.35" r="1.45" fill="#fc9797"/>
<circle cx="294.71" cy="237.59" r="1.45" fill="#fc9797"/>
<circle cx="279.71" cy="242.25" r="1.45" fill="#fc9797"/>
<circle cx="290.86" cy="211.00" r="1.45" fill="#fc9797"/>
<circle cx="287.28" cy="213.99" r="1.45" fill="#fc9797"/>
<circle cx="288.51" cy="210.97" r="1.45" fill="#fc9797"/>
<circle cx="284.48" cy="236.08" r="1.45" fill="#fc9797"/>
<circle cx="294.19" cy="225.38" r="1.45" fill="#fc9797"/>
<circle cx="279.10" cy="239.73" r="1.45" fill="#fc9797"/>
<circle cx="297.76" cy="232.29" r="1.45" fill="#fc9797"/>
<circle cx="281.97" cy="219.45" r="1.45" fill="#fc9797"/>
<circle cx="284.98" cy="223.92" r="1.45" fill="#fc9797"/>
<circle cx="290.72" cy="240.55" r="1.45" fill="#fc9797"/>
<circle cx="279.14" cy="237.85" r="1.45" fill="#fc9797"/>
<circle cx="285.59" cy="227.77" r="1.45" fill="#fc9797"/>
<circle cx="282.36" cy="211.03" r="1.45" fill="#fc9797"/>
<circle cx="283.80" cy="243.57" r="1.45" fill="#fc9797"/>
<circle cx="287.28" cy="233.74" r="1.45" fill="#fc9797"/>
<circle cx="292.20" cy="214.68" r="1.45" fill="#fc9797"/>
<circle cx="292.27" cy="235.07" r="1.45" fill="#fc9797"/>
<circle cx="283.62" cy="211.14" r="1.45" fill="#fc9797"/>
<circle cx="288.80" cy="225.03" r="1.45" fill="#fc9797"/>
<circle cx="295.55" cy="226.72" r="1.45" fill="#fc9797"/>
<circle cx="282.34" cy="217.90" r="1.45" fill="#fc9797"/>
<circle cx="284.36" cy="215.10" r="1.45" fill="#fc9797"/>
<circle cx="281.29" cy="222.08" r="1.45" fill="#fc9797"/>
<circle cx="284.70" cy="238.51" r="1.45" fill="#fc9797"/>
<circle cx="287.37" cy="242.67" r="1.45" fill="#fc9797"/>
<circle cx="283.01" cy="228.60" r="1.45" fill="#fc9797"/>
<circle cx="291.32" cy="227.26" r="1.45" fill="#fc9797"/>
<circle cx="282.20" cy="227.12" r="1.45" fill="#fc9797"/>
<circle cx="298.74" cy="224.03" r="1.45" fill="#fc9797"/>
<circle cx="285.64" cy="241.20" r="1.45" fill="#fc9797"/>
<circle cx="286.70" cy="243.83" r="1.45" fill="#fc9797"/>
<circle cx="289.58" cy="234.47" r="1.45" fill="#fc9797"/>
<circle cx="295.87" cy="241.67" r="1.45" fill="#fc9797"/>
<circle cx="285.12" cy="223.17" r="1.45" fill="#fc9797"/>
<circle cx="289.23" cy="224.56" r="1.45" fill="#fc9797"/>
<circle cx="284.48" cy="235.04" r="1.45" fill="#fc9797"/>
<circle cx="294.53" cy="238.31" r="1.45" fill="#fc9797"/>
<circle cx="280.73" cy="222.41" r="1.45" fill="#fc9797"/>
<circle cx="284.10" cy="233.70" r="1.45" fill="#fc9797"/>
<circle cx="295.78" cy="239.41" r="1.45" fill="#fc9797"/>
<circle cx="297.68" cy="234.54" r="1.45" fill="#fc9797"/>
<circle cx="291.73" cy="227.72" r="1.45" fill="#fc9797"/>
<circle cx="285.28" cy="225.74" r="1.45" fill="#fc9797"/>
<circle cx="289.71" cy="234.97" r="1.45" fill="#fc9797"/>
<circle cx="290.46" cy="230.02" r="1.45" fill="#fc9797"/>
<circle cx="287.48" cy="226.71" r="1.45" fill="#fc9797"/>
<circle cx="295.30" cy="234.36" r="1.45" fill="#fc9797"/>
<circle cx="293.97" cy="239.67" r="1.45" fill="#fc9797"/>
<circle cx="284.62" cy="223.69" r="1.45" fill="#fc9797"/>
<circle cx="284.66" cy="241.87" r="1.45" fill="#fc9797"/>
<circle cx="294.83" cy="230.33" r="1.45" fill="#fc9797"/>
<circle cx="294.53" cy="228.87" r="1.45" fill="#fc9797"/>
<circle cx="293.82" cy="243.55" r="1.45" fill="#fc9797"/>
<circle cx="287.40" cy="231.62" r="1.45" fill="#fc9797"/>
<circle cx="281.62" cy="227.33" r="1.45" fill="#fc9797"/>
<circle cx="283.68" cy="227.81" r="1.45" fill="#fc9797"/>
<circle cx="280.37" cy="227.89" r="1.45" fill="#fc9797"/>
<circle cx="281.09" cy="233.07" r="1.45" fill="#fc9797"/>
<circle cx="287.13" cy="226.23" r="1.45" fill="#fc9797"/>
<circle cx="289.63" cy="241.58" r="1.45" fill="#fc9797"/>
<circle cx="294.17" cy="243.21" r="1.45" fill="#fc9797"/>
<polygon points="241.00,244.60 247.00,241.00 252.00,238.50 256.00,235.00 260.00,230.50 264.00,227.50 268.60,226.50 272.80,227.00 272.80,244.60" fill="#70b8f6"/>
<circle cx="240.81" cy="244.34" r="1.45" fill="#70b8f6"/>
<circle cx="244.15" cy="242.93" r="1.45" fill="#70b8f6"/>
<circle cx="246.43" cy="242.09" r="1.45" fill="#70b8f6"/>
<circle cx="247.18" cy="240.50" r="1.45" fill="#70b8f6"/>
<circle cx="249.45" cy="239.75" r="1.45" fill="#70b8f6"/>
<circle cx="253.24" cy="237.69" r="1.45" fill="#70b8f6"/>
<circle cx="254.95" cy="235.76" r="1.45" fill="#70b8f6"/>
<circle cx="257.07" cy="234.54" r="1.45" fill="#70b8f6"/>
<circle cx="258.73" cy="231.58" r="1.45" fill="#70b8f6"/>
<circle cx="260.62" cy="230.21" r="1.45" fill="#70b8f6"/>
<circle cx="262.87" cy="228.17" r="1.45" fill="#70b8f6"/>
<circle cx="265.31" cy="226.93" r="1.45" fill="#70b8f6"/>
<circle cx="266.10" cy="227.37" r="1.45" fill="#70b8f6"/>
<circle cx="269.94" cy="227.03" r="1.45" fill="#70b8f6"/>
<circle cx="272.96" cy="228.08" r="1.45" fill="#70b8f6"/>
<circle cx="272.43" cy="229.72" r="1.45" fill="#70b8f6"/>
<circle cx="272.95" cy="233.28" r="1.45" fill="#70b8f6"/>
<circle cx="272.73" cy="236.09" r="1.45" fill="#70b8f6"/>
<circle cx="272.51" cy="237.85" r="1.45" fill="#70b8f6"/>
<circle cx="272.54" cy="240.03" r="1.45" fill="#70b8f6"/>
<circle cx="272.72" cy="242.04" r="1.45" fill="#70b8f6"/>
<circle cx="271.62" cy="244.56" r="1.45" fill="#70b8f6"/>
<circle cx="270.27" cy="244.52" r="1.45" fill="#70b8f6"/>
<circle cx="267.22" cy="244.63" r="1.45" fill="#70b8f6"/>
<circle cx="264.91" cy="244.54" r="1.45" fill="#70b8f6"/>
<circle cx="263.01" cy="244.90" r="1.45" fill="#70b8f6"/>
<circle cx="261.22" cy="244.83" r="1.45" fill="#70b8f6"/>
<circle cx="258.37" cy="244.62" r="1.45" fill="#70b8f6"/>
<circle cx="256.55" cy="244.21" r="1.45" fill="#70b8f6"/>
<circle cx="253.74" cy="244.38" r="1.45" fill="#70b8f6"/>
<circle cx="251.49" cy="244.66" r="1.45" fill="#70b8f6"/>
<circle cx="249.64" cy="244.54" r="1.45" fill="#70b8f6"/>
<circle cx="247.12" cy="244.61" r="1.45" fill="#70b8f6"/>
<circle cx="244.71" cy="244.63" r="1.45" fill="#70b8f6"/>
<circle cx="243.17" cy="244.80" r="1.45" fill="#70b8f6"/>
<polygon points="279.00,244.50 279.00,232.00 282.00,229.50 287.00,229.50 292.00,232.50 296.00,237.00 297.00,241.00 293.00,244.50" fill="#fc9797"/>
<circle cx="279.44" cy="243.16" r="1.45" fill="#fc9797"/>
<circle cx="279.44" cy="241.64" r="1.45" fill="#fc9797"/>
<circle cx="278.62" cy="239.27" r="1.45" fill="#fc9797"/>
<circle cx="278.74" cy="236.48" r="1.45" fill="#fc9797"/>
<circle cx="279.28" cy="234.06" r="1.45" fill="#fc9797"/>
<circle cx="279.45" cy="231.97" r="1.45" fill="#fc9797"/>
<circle cx="282.56" cy="229.97" r="1.45" fill="#fc9797"/>
<circle cx="285.23" cy="229.40" r="1.45" fill="#fc9797"/>
<circle cx="288.10" cy="230.20" r="1.45" fill="#fc9797"/>
<circle cx="289.63" cy="231.14" r="1.45" fill="#fc9797"/>
<circle cx="292.03" cy="232.70" r="1.45" fill="#fc9797"/>
<circle cx="294.24" cy="235.62" r="1.45" fill="#fc9797"/>
<circle cx="295.74" cy="237.71" r="1.45" fill="#fc9797"/>
<circle cx="296.39" cy="241.11" r="1.45" fill="#fc9797"/>
<circle cx="294.30" cy="244.08" r="1.45" fill="#fc9797"/>
<circle cx="292.64" cy="244.04" r="1.45" fill="#fc9797"/>
<circle cx="289.53" cy="244.13" r="1.45" fill="#fc9797"/>
<circle cx="288.25" cy="244.82" r="1.45" fill="#fc9797"/>
<circle cx="285.35" cy="244.92" r="1.45" fill="#fc9797"/>
<circle cx="283.20" cy="244.09" r="1.45" fill="#fc9797"/>
<circle cx="281.45" cy="244.43" r="1.45" fill="#fc9797"/>
<line x1="233.00" y1="229.20" x2="246.00" y2="240.50" stroke="#70b8f6" stroke-width="2.2" stroke-linecap="round"/>
<circle cx="249.70" cy="99.30" r="1.45" fill="#70b8f6"/>
<circle cx="253.00" cy="122.40" r="1.45" fill="#70b8f6"/>
<circle cx="254.20" cy="121.30" r="1.45" fill="#70b8f6"/>
<circle cx="241.80" cy="147.60" r="1.45" fill="#70b8f6"/>
<circle cx="244.50" cy="155.80" r="1.45" fill="#70b8f6"/>
<circle cx="261.30" cy="153.30" r="1.45" fill="#70b8f6"/>
<circle cx="259.60" cy="188.70" r="1.45" fill="#70b8f6"/>
<circle cx="265.50" cy="191.50" r="1.45" fill="#70b8f6"/>
<circle cx="266.90" cy="191.80" r="1.45" fill="#70b8f6"/>
<circle cx="259.50" cy="197.60" r="1.45" fill="#70b8f6"/>
<circle cx="266.50" cy="198.70" r="1.45" fill="#70b8f6"/>
<circle cx="258.70" cy="202.70" r="1.45" fill="#70b8f6"/>
<circle cx="252.40" cy="207.30" r="1.45" fill="#70b8f6"/>
<circle cx="234.20" cy="210.40" r="1.45" fill="#70b8f6"/>
<circle cx="264.50" cy="208.20" r="1.45" fill="#70b8f6"/>
<circle cx="268.20" cy="208.20" r="1.45" fill="#70b8f6"/>
<circle cx="230.00" cy="218.20" r="1.45" fill="#70b8f6"/>
<circle cx="230.20" cy="226.40" r="1.45" fill="#70b8f6"/>
<circle cx="248.20" cy="223.10" r="1.45" fill="#70b8f6"/>
<circle cx="250.00" cy="229.60" r="1.45" fill="#70b8f6"/>
<circle cx="233.60" cy="229.60" r="1.45" fill="#70b8f6"/>
<circle cx="238.20" cy="232.70" r="1.45" fill="#70b8f6"/>
<circle cx="242.70" cy="235.10" r="1.45" fill="#70b8f6"/>
<circle cx="249.10" cy="234.00" r="1.45" fill="#70b8f6"/>
<circle cx="255.10" cy="220.90" r="1.45" fill="#70b8f6"/>
<circle cx="256.40" cy="218.20" r="1.45" fill="#70b8f6"/>
<circle cx="229.90" cy="226.60" r="1.45" fill="#70b8f6"/>
<circle cx="233.20" cy="228.80" r="1.45" fill="#70b8f6"/>
<circle cx="235.40" cy="230.50" r="1.45" fill="#70b8f6"/>
<circle cx="238.60" cy="233.20" r="1.45" fill="#70b8f6"/>
<circle cx="241.90" cy="235.40" r="1.45" fill="#70b8f6"/>
<circle cx="237.50" cy="236.50" r="1.45" fill="#70b8f6"/>
<circle cx="241.40" cy="238.60" r="1.45" fill="#70b8f6"/>
<circle cx="244.60" cy="240.80" r="1.45" fill="#70b8f6"/>
<circle cx="234.30" cy="210.60" r="1.45" fill="#70b8f6"/>
<circle cx="229.90" cy="218.10" r="1.45" fill="#70b8f6"/>
<circle cx="247.90" cy="223.10" r="1.45" fill="#70b8f6"/>
<circle cx="250.10" cy="229.70" r="1.45" fill="#70b8f6"/>
<circle cx="247.90" cy="234.30" r="1.45" fill="#70b8f6"/>
<circle cx="252.30" cy="207.50" r="1.45" fill="#70b8f6"/>
<circle cx="259.40" cy="198.10" r="1.45" fill="#70b8f6"/>
<circle cx="266.20" cy="198.10" r="1.45" fill="#70b8f6"/>
<circle cx="259.00" cy="206.50" r="1.45" fill="#70b8f6"/>
<circle cx="264.80" cy="209.20" r="1.45" fill="#70b8f6"/>
<circle cx="267.00" cy="207.90" r="1.45" fill="#70b8f6"/>
<circle cx="268.10" cy="208.60" r="1.45" fill="#70b8f6"/>
<circle cx="259.00" cy="210.80" r="1.45" fill="#70b8f6"/>
<circle cx="255.00" cy="214.40" r="1.45" fill="#70b8f6"/>
<circle cx="253.90" cy="217.40" r="1.45" fill="#70b8f6"/>
<circle cx="255.50" cy="221.20" r="1.45" fill="#70b8f6"/>
<circle cx="257.20" cy="220.10" r="1.45" fill="#70b8f6"/>
<circle cx="263.70" cy="220.10" r="1.45" fill="#70b8f6"/>
<circle cx="267.00" cy="219.50" r="1.45" fill="#70b8f6"/>
<circle cx="257.70" cy="230.50" r="1.45" fill="#70b8f6"/>
<circle cx="262.00" cy="213.00" r="1.45" fill="#70b8f6"/>
<circle cx="266.00" cy="214.00" r="1.45" fill="#70b8f6"/>
<circle cx="270.00" cy="216.00" r="1.45" fill="#70b8f6"/>
<circle cx="271.00" cy="212.00" r="1.45" fill="#70b8f6"/>
<circle cx="260.00" cy="217.00" r="1.45" fill="#70b8f6"/>
<circle cx="252.00" cy="228.00" r="1.45" fill="#70b8f6"/>
<circle cx="245.00" cy="237.00" r="1.45" fill="#70b8f6"/>
<circle cx="294.00" cy="243.20" r="1.45" fill="#fc9797"/>
<circle cx="296.45" cy="241.65" r="1.45" fill="#fc9797"/>
<circle cx="298.90" cy="240.10" r="1.45" fill="#fc9797"/>
<circle cx="301.35" cy="238.55" r="1.45" fill="#fc9797"/>
<circle cx="303.80" cy="237.00" r="1.45" fill="#fc9797"/>
<circle cx="306.25" cy="235.45" r="1.45" fill="#fc9797"/>
<circle cx="308.70" cy="233.90" r="1.45" fill="#fc9797"/>
<circle cx="311.15" cy="232.35" r="1.45" fill="#fc9797"/>
<circle cx="309.10" cy="123.10" r="1.45" fill="#fc9797"/>
<circle cx="299.20" cy="164.50" r="1.45" fill="#fc9797"/>
<circle cx="289.50" cy="176.40" r="1.45" fill="#fc9797"/>
<circle cx="291.00" cy="185.10" r="1.45" fill="#fc9797"/>
<circle cx="295.50" cy="186.00" r="1.45" fill="#fc9797"/>
<circle cx="308.30" cy="186.50" r="1.45" fill="#fc9797"/>
<circle cx="293.20" cy="189.50" r="1.45" fill="#fc9797"/>
<circle cx="296.80" cy="190.50" r="1.45" fill="#fc9797"/>
<circle cx="286.80" cy="195.50" r="1.45" fill="#fc9797"/>
<circle cx="291.40" cy="196.40" r="1.45" fill="#fc9797"/>
<circle cx="285.00" cy="198.20" r="1.45" fill="#fc9797"/>
<circle cx="305.40" cy="198.20" r="1.45" fill="#fc9797"/>
<circle cx="288.60" cy="200.50" r="1.45" fill="#fc9797"/>
<circle cx="292.60" cy="203.30" r="1.45" fill="#fc9797"/>
<circle cx="288.30" cy="206.40" r="1.45" fill="#fc9797"/>
<circle cx="283.20" cy="210.00" r="1.45" fill="#fc9797"/>
<circle cx="290.50" cy="210.00" r="1.45" fill="#fc9797"/>
<circle cx="294.10" cy="210.00" r="1.45" fill="#fc9797"/>
<circle cx="295.90" cy="212.70" r="1.45" fill="#fc9797"/>
<circle cx="282.30" cy="215.50" r="1.45" fill="#fc9797"/>
<circle cx="292.30" cy="217.30" r="1.45" fill="#fc9797"/>
<circle cx="309.50" cy="217.80" r="1.45" fill="#fc9797"/>
<circle cx="285.90" cy="219.10" r="1.45" fill="#fc9797"/>
<circle cx="321.40" cy="225.50" r="1.45" fill="#fc9797"/>
<circle cx="319.00" cy="227.80" r="1.45" fill="#fc9797"/>
<circle cx="303.20" cy="227.30" r="1.45" fill="#fc9797"/>
<circle cx="302.30" cy="229.60" r="1.45" fill="#fc9797"/>
<circle cx="313.20" cy="232.70" r="1.45" fill="#fc9797"/>
<circle cx="297.70" cy="233.60" r="1.45" fill="#fc9797"/>
<circle cx="282.50" cy="215.50" r="1.45" fill="#fc9797"/>
<circle cx="285.00" cy="219.00" r="1.45" fill="#fc9797"/>
<circle cx="286.00" cy="219.00" r="1.45" fill="#fc9797"/>
<circle cx="284.00" cy="220.50" r="1.45" fill="#fc9797"/>
<circle cx="287.00" cy="223.00" r="1.45" fill="#fc9797"/>
<circle cx="290.50" cy="221.50" r="1.45" fill="#fc9797"/>
<circle cx="291.50" cy="222.50" r="1.45" fill="#fc9797"/>
<circle cx="293.00" cy="217.50" r="1.45" fill="#fc9797"/>
<circle cx="295.00" cy="217.50" r="1.45" fill="#fc9797"/>
<circle cx="283.50" cy="211.00" r="1.45" fill="#fc9797"/>
<circle cx="286.00" cy="210.00" r="1.45" fill="#fc9797"/>
<circle cx="291.00" cy="210.00" r="1.45" fill="#fc9797"/>
<circle cx="293.50" cy="209.80" r="1.45" fill="#fc9797"/>
<circle cx="295.50" cy="212.50" r="1.45" fill="#fc9797"/>
<circle cx="288.00" cy="206.00" r="1.45" fill="#fc9797"/>
<circle cx="293.00" cy="203.50" r="1.45" fill="#fc9797"/>
<circle cx="289.00" cy="201.00" r="1.45" fill="#fc9797"/>
<circle cx="285.50" cy="198.00" r="1.45" fill="#fc9797"/>
<circle cx="288.00" cy="197.00" r="1.45" fill="#fc9797"/>
<circle cx="291.50" cy="196.50" r="1.45" fill="#fc9797"/>
<circle cx="305.50" cy="198.50" r="1.45" fill="#fc9797"/>
<circle cx="296.50" cy="227.00" r="1.45" fill="#fc9797"/>
<circle cx="302.00" cy="229.50" r="1.45" fill="#fc9797"/>
<circle cx="303.50" cy="227.50" r="1.45" fill="#fc9797"/>
<circle cx="298.00" cy="233.00" r="1.45" fill="#fc9797"/>
<circle cx="300.00" cy="235.00" r="1.45" fill="#fc9797"/>
<circle cx="302.00" cy="243.00" r="1.45" fill="#fc9797"/>
<circle cx="281.00" cy="221.00" r="1.45" fill="#fc9797"/>
<circle cx="280.50" cy="217.00" r="1.45" fill="#fc9797"/>
<circle cx="252.70" cy="166.90" r="1.7" fill="#e8101a"/>
<text x="252.70" y="164.50" font-size="5.9" text-anchor="middle" font-style="italic" fill="#f22828" stroke="#f22828" stroke-width="0.14">GalUR</text>
<text x="262.10" y="217.30" font-size="5.9" text-anchor="middle" font-style="italic" fill="#f22828" stroke="#f22828" stroke-width="0.14">GME</text>
<circle cx="257.70" cy="203.50" r="1.7" fill="#e8101a"/>
<text x="257.20" y="202.60" font-size="5.9" text-anchor="middle" font-style="italic" fill="#f22828" stroke="#f22828" stroke-width="0.14">HMGR1</text>
<line x1="272.00" y1="255.50" x2="272.00" y2="20.00" stroke="#777" stroke-width="1.0" stroke-dasharray="5.0 4.65" stroke-dashoffset="9.05"/>
<line x1="279.20" y1="255.50" x2="279.20" y2="20.00" stroke="#777" stroke-width="1.0" stroke-dasharray="5.0 4.65" stroke-dashoffset="9.05"/>
<line x1="209.80" y1="244.20" x2="341.40" y2="244.20" stroke="#777" stroke-width="1.0" stroke-dasharray="5.0 4.65"/>
<line x1="209.80" y1="20.00" x2="209.80" y2="256.00" stroke="#777" stroke-width="1.1"/>
<line x1="209.30" y1="255.50" x2="341.40" y2="255.50" stroke="#777" stroke-width="1.1"/>
<line x1="208.20" y1="244.90" x2="209.80" y2="244.90" stroke="#222" stroke-width="1.0"/>
<text x="203.90" y="247.00" font-size="8.3" stroke="#3c3c3c" stroke-width="0.08" text-anchor="end" fill="#3c3c3c">0</text>
<line x1="208.20" y1="191.20" x2="209.80" y2="191.20" stroke="#222" stroke-width="1.0"/>
<text x="207.40" y="193.30" font-size="8.3" stroke="#3c3c3c" stroke-width="0.08" text-anchor="end" fill="#3c3c3c">100</text>
<line x1="208.20" y1="137.50" x2="209.80" y2="137.50" stroke="#222" stroke-width="1.0"/>
<text x="207.40" y="139.60" font-size="8.3" stroke="#3c3c3c" stroke-width="0.08" text-anchor="end" fill="#3c3c3c">200</text>
<line x1="208.20" y1="83.80" x2="209.80" y2="83.80" stroke="#222" stroke-width="1.0"/>
<text x="207.40" y="85.90" font-size="8.3" stroke="#3c3c3c" stroke-width="0.08" text-anchor="end" fill="#3c3c3c">300</text>
<line x1="208.20" y1="30.10" x2="209.80" y2="30.10" stroke="#222" stroke-width="1.0"/>
<text x="207.40" y="32.20" font-size="8.3" stroke="#3c3c3c" stroke-width="0.08" text-anchor="end" fill="#3c3c3c">400</text>
<line x1="215.50" y1="255.50" x2="215.50" y2="257.10" stroke="#222" stroke-width="1.0"/>
<text x="216.30" y="265.40" font-size="8.3" stroke="#3c3c3c" stroke-width="0.08" text-anchor="middle" fill="#3c3c3c">−20</text>
<line x1="245.40" y1="255.50" x2="245.40" y2="257.10" stroke="#222" stroke-width="1.0"/>
<text x="246.20" y="265.40" font-size="8.3" stroke="#3c3c3c" stroke-width="0.08" text-anchor="middle" fill="#3c3c3c">−10</text>
<line x1="275.30" y1="255.50" x2="275.30" y2="257.10" stroke="#222" stroke-width="1.0"/>
<text x="275.30" y="265.40" font-size="8.3" stroke="#3c3c3c" stroke-width="0.08" text-anchor="middle" fill="#3c3c3c">0</text>
<line x1="305.20" y1="255.50" x2="305.20" y2="257.10" stroke="#222" stroke-width="1.0"/>
<text x="305.20" y="265.40" font-size="8.3" stroke="#3c3c3c" stroke-width="0.08" text-anchor="middle" fill="#3c3c3c">10</text>
<line x1="335.10" y1="255.50" x2="335.10" y2="257.10" stroke="#222" stroke-width="1.0"/>
<text x="335.10" y="265.40" font-size="8.3" stroke="#3c3c3c" stroke-width="0.08" text-anchor="middle" fill="#3c3c3c">20</text>
<text x="273.40" y="275.50" font-size="9.0" stroke="#3c3c3c" stroke-width="0.08" text-anchor="middle" fill="#3c3c3c">Log2FC</text>
<text x="188.30" y="127.90" font-size="9.2" stroke="#3c3c3c" stroke-width="0.08" text-anchor="middle" fill="#3c3c3c" transform="rotate(-90 188.30 127.90)">−Log10(padj)</text>
<circle cx="328.70" cy="18.40" r="1.4" fill="#70b8f6"/>
<text x="332.00" y="20.90" font-size="5.5" fill="#111">DOWN</text>
<circle cx="328.70" cy="28.40" r="1.4" fill="#fc9797"/>
<text x="332.00" y="30.90" font-size="5.5" fill="#111">UP</text>
<text x="218.00" y="11.50" font-size="10.0" font-weight="bold" fill="#000">B</text>
<text x="260.60" y="297.50" font-size="9.0" text-anchor="middle" font-weight="bold" fill="#404040">Fruit_Vs_Root</text>
<rect x="436.40" y="15.85" width="19.10" height="1.30" fill="#70b8f6"/>
<rect x="468.20" y="15.85" width="20.90" height="1.30" fill="#fc9797"/>
<rect x="491.50" y="15.85" width="2.10" height="1.30" fill="#fc9797"/>
<circle cx="455.39" cy="195.98" r="1.45" fill="#70b8f6"/>
<circle cx="442.15" cy="206.69" r="1.45" fill="#70b8f6"/>
<circle cx="446.03" cy="224.78" r="1.45" fill="#70b8f6"/>
<circle cx="457.23" cy="239.90" r="1.45" fill="#70b8f6"/>
<circle cx="446.79" cy="209.17" r="1.45" fill="#70b8f6"/>
<circle cx="440.01" cy="229.13" r="1.45" fill="#70b8f6"/>
<circle cx="442.51" cy="211.35" r="1.45" fill="#70b8f6"/>
<circle cx="441.89" cy="213.30" r="1.45" fill="#70b8f6"/>
<circle cx="457.73" cy="242.62" r="1.45" fill="#70b8f6"/>
<circle cx="452.72" cy="217.29" r="1.45" fill="#70b8f6"/>
<circle cx="450.37" cy="190.24" r="1.45" fill="#70b8f6"/>
<circle cx="452.92" cy="189.01" r="1.45" fill="#70b8f6"/>
<circle cx="456.47" cy="229.56" r="1.45" fill="#70b8f6"/>
<circle cx="454.95" cy="196.36" r="1.45" fill="#70b8f6"/>
<circle cx="457.18" cy="189.97" r="1.45" fill="#70b8f6"/>
<circle cx="450.76" cy="178.74" r="1.45" fill="#70b8f6"/>
<circle cx="456.66" cy="221.71" r="1.45" fill="#70b8f6"/>
<circle cx="451.35" cy="170.64" r="1.45" fill="#70b8f6"/>
<circle cx="456.88" cy="225.70" r="1.45" fill="#70b8f6"/>
<circle cx="435.67" cy="232.87" r="1.45" fill="#70b8f6"/>
<circle cx="453.17" cy="211.48" r="1.45" fill="#70b8f6"/>
<circle cx="429.19" cy="242.06" r="1.45" fill="#70b8f6"/>
<circle cx="450.57" cy="183.95" r="1.45" fill="#70b8f6"/>
<circle cx="456.50" cy="197.57" r="1.45" fill="#70b8f6"/>
<circle cx="444.27" cy="231.25" r="1.45" fill="#70b8f6"/>
<circle cx="454.89" cy="226.97" r="1.45" fill="#70b8f6"/>
<circle cx="449.51" cy="237.76" r="1.45" fill="#70b8f6"/>
<circle cx="432.25" cy="238.61" r="1.45" fill="#70b8f6"/>
<circle cx="454.05" cy="208.11" r="1.45" fill="#70b8f6"/>
<circle cx="443.79" cy="230.01" r="1.45" fill="#70b8f6"/>
<circle cx="455.17" cy="172.95" r="1.45" fill="#70b8f6"/>
<circle cx="437.52" cy="233.40" r="1.45" fill="#70b8f6"/>
<circle cx="457.18" cy="212.81" r="1.45" fill="#70b8f6"/>
<circle cx="447.98" cy="206.43" r="1.45" fill="#70b8f6"/>
<circle cx="448.29" cy="239.72" r="1.45" fill="#70b8f6"/>
<circle cx="441.34" cy="219.28" r="1.45" fill="#70b8f6"/>
<circle cx="436.14" cy="242.94" r="1.45" fill="#70b8f6"/>
<circle cx="449.44" cy="234.22" r="1.45" fill="#70b8f6"/>
<circle cx="449.44" cy="216.92" r="1.45" fill="#70b8f6"/>
<circle cx="451.23" cy="235.52" r="1.45" fill="#70b8f6"/>
<circle cx="454.65" cy="231.66" r="1.45" fill="#70b8f6"/>
<circle cx="439.27" cy="224.57" r="1.45" fill="#70b8f6"/>
<circle cx="453.46" cy="205.41" r="1.45" fill="#70b8f6"/>
<circle cx="445.87" cy="188.65" r="1.45" fill="#70b8f6"/>
<circle cx="444.53" cy="208.58" r="1.45" fill="#70b8f6"/>
<circle cx="457.59" cy="232.42" r="1.45" fill="#70b8f6"/>
<circle cx="449.16" cy="189.18" r="1.45" fill="#70b8f6"/>
<circle cx="449.37" cy="206.12" r="1.45" fill="#70b8f6"/>
<circle cx="440.01" cy="228.78" r="1.45" fill="#70b8f6"/>
<circle cx="448.21" cy="198.76" r="1.45" fill="#70b8f6"/>
<circle cx="445.54" cy="236.00" r="1.45" fill="#70b8f6"/>
<circle cx="454.80" cy="213.08" r="1.45" fill="#70b8f6"/>
<circle cx="440.05" cy="233.47" r="1.45" fill="#70b8f6"/>
<circle cx="451.63" cy="235.45" r="1.45" fill="#70b8f6"/>
<circle cx="453.99" cy="188.83" r="1.45" fill="#70b8f6"/>
<circle cx="452.62" cy="229.69" r="1.45" fill="#70b8f6"/>
<circle cx="448.62" cy="238.60" r="1.45" fill="#70b8f6"/>
<circle cx="445.90" cy="198.46" r="1.45" fill="#70b8f6"/>
<circle cx="436.03" cy="228.84" r="1.45" fill="#70b8f6"/>
<circle cx="457.23" cy="194.82" r="1.45" fill="#70b8f6"/>
<circle cx="448.53" cy="205.21" r="1.45" fill="#70b8f6"/>
<circle cx="452.38" cy="175.89" r="1.45" fill="#70b8f6"/>
<circle cx="446.01" cy="194.29" r="1.45" fill="#70b8f6"/>
<circle cx="446.03" cy="212.64" r="1.45" fill="#70b8f6"/>
<circle cx="451.67" cy="239.34" r="1.45" fill="#70b8f6"/>
<circle cx="448.17" cy="200.80" r="1.45" fill="#70b8f6"/>
<circle cx="445.54" cy="221.55" r="1.45" fill="#70b8f6"/>
<circle cx="438.51" cy="224.69" r="1.45" fill="#70b8f6"/>
<circle cx="454.82" cy="162.67" r="1.45" fill="#70b8f6"/>
<circle cx="455.66" cy="218.57" r="1.45" fill="#70b8f6"/>
<circle cx="445.89" cy="235.08" r="1.45" fill="#70b8f6"/>
<circle cx="453.96" cy="225.12" r="1.45" fill="#70b8f6"/>
<circle cx="456.03" cy="195.81" r="1.45" fill="#70b8f6"/>
<circle cx="448.96" cy="227.01" r="1.45" fill="#70b8f6"/>
<circle cx="446.40" cy="218.15" r="1.45" fill="#70b8f6"/>
<circle cx="432.78" cy="234.20" r="1.45" fill="#70b8f6"/>
<circle cx="457.18" cy="241.01" r="1.45" fill="#70b8f6"/>
<circle cx="443.08" cy="224.59" r="1.45" fill="#70b8f6"/>
<circle cx="436.19" cy="235.08" r="1.45" fill="#70b8f6"/>
<circle cx="453.21" cy="185.67" r="1.45" fill="#70b8f6"/>
<circle cx="443.50" cy="222.60" r="1.45" fill="#70b8f6"/>
<circle cx="451.44" cy="170.21" r="1.45" fill="#70b8f6"/>
<circle cx="436.65" cy="224.34" r="1.45" fill="#70b8f6"/>
<circle cx="442.43" cy="218.67" r="1.45" fill="#70b8f6"/>
<circle cx="452.71" cy="215.66" r="1.45" fill="#70b8f6"/>
<circle cx="456.07" cy="198.35" r="1.45" fill="#70b8f6"/>
<circle cx="456.18" cy="162.57" r="1.45" fill="#70b8f6"/>
<circle cx="446.32" cy="201.00" r="1.45" fill="#70b8f6"/>
<circle cx="452.83" cy="204.28" r="1.45" fill="#70b8f6"/>
<circle cx="452.88" cy="234.25" r="1.45" fill="#70b8f6"/>
<circle cx="456.80" cy="201.13" r="1.45" fill="#70b8f6"/>
<circle cx="443.04" cy="199.28" r="1.45" fill="#70b8f6"/>
<circle cx="456.83" cy="200.41" r="1.45" fill="#70b8f6"/>
<circle cx="438.74" cy="225.49" r="1.45" fill="#70b8f6"/>
<circle cx="443.90" cy="198.21" r="1.45" fill="#70b8f6"/>
<circle cx="456.43" cy="236.26" r="1.45" fill="#70b8f6"/>
<circle cx="451.94" cy="234.25" r="1.45" fill="#70b8f6"/>
<circle cx="455.42" cy="166.39" r="1.45" fill="#70b8f6"/>
<circle cx="447.85" cy="183.34" r="1.45" fill="#70b8f6"/>
<circle cx="446.30" cy="201.61" r="1.45" fill="#70b8f6"/>
<circle cx="453.07" cy="208.83" r="1.45" fill="#70b8f6"/>
<circle cx="453.25" cy="175.47" r="1.45" fill="#70b8f6"/>
<circle cx="449.56" cy="226.32" r="1.45" fill="#70b8f6"/>
<circle cx="454.71" cy="182.80" r="1.45" fill="#70b8f6"/>
<circle cx="436.02" cy="236.20" r="1.45" fill="#70b8f6"/>
<circle cx="432.94" cy="242.86" r="1.45" fill="#70b8f6"/>
<circle cx="454.22" cy="166.79" r="1.45" fill="#70b8f6"/>
<circle cx="452.46" cy="192.10" r="1.45" fill="#70b8f6"/>
<circle cx="438.81" cy="215.30" r="1.45" fill="#70b8f6"/>
<circle cx="447.70" cy="235.20" r="1.45" fill="#70b8f6"/>
<circle cx="448.32" cy="202.15" r="1.45" fill="#70b8f6"/>
<circle cx="453.76" cy="209.37" r="1.45" fill="#70b8f6"/>
<circle cx="454.40" cy="177.73" r="1.45" fill="#70b8f6"/>
<circle cx="455.72" cy="198.77" r="1.45" fill="#70b8f6"/>
<circle cx="446.88" cy="210.34" r="1.45" fill="#70b8f6"/>
<circle cx="455.36" cy="207.47" r="1.45" fill="#70b8f6"/>
<circle cx="455.58" cy="204.77" r="1.45" fill="#70b8f6"/>
<circle cx="457.15" cy="206.93" r="1.45" fill="#70b8f6"/>
<circle cx="448.29" cy="209.40" r="1.45" fill="#70b8f6"/>
<circle cx="451.23" cy="205.22" r="1.45" fill="#70b8f6"/>
<circle cx="452.22" cy="190.90" r="1.45" fill="#70b8f6"/>
<circle cx="455.49" cy="207.12" r="1.45" fill="#70b8f6"/>
<circle cx="457.62" cy="202.40" r="1.45" fill="#70b8f6"/>
<circle cx="452.09" cy="204.93" r="1.45" fill="#70b8f6"/>
<circle cx="452.75" cy="189.41" r="1.45" fill="#70b8f6"/>
<circle cx="457.21" cy="189.15" r="1.45" fill="#70b8f6"/>
<circle cx="454.20" cy="213.05" r="1.45" fill="#70b8f6"/>
<circle cx="455.32" cy="208.88" r="1.45" fill="#70b8f6"/>
<circle cx="450.29" cy="210.20" r="1.45" fill="#70b8f6"/>
<circle cx="456.34" cy="207.34" r="1.45" fill="#70b8f6"/>
<circle cx="447.60" cy="209.56" r="1.45" fill="#70b8f6"/>
<circle cx="449.80" cy="203.53" r="1.45" fill="#70b8f6"/>
<circle cx="446.75" cy="214.74" r="1.45" fill="#70b8f6"/>
<circle cx="452.72" cy="203.80" r="1.45" fill="#70b8f6"/>
<circle cx="452.44" cy="198.01" r="1.45" fill="#70b8f6"/>
<circle cx="449.60" cy="204.02" r="1.45" fill="#70b8f6"/>
<circle cx="452.12" cy="195.91" r="1.45" fill="#70b8f6"/>
<circle cx="445.04" cy="215.91" r="1.45" fill="#70b8f6"/>
<circle cx="449.69" cy="208.72" r="1.45" fill="#70b8f6"/>
<circle cx="451.36" cy="214.67" r="1.45" fill="#70b8f6"/>
<circle cx="451.61" cy="192.87" r="1.45" fill="#70b8f6"/>
<circle cx="453.57" cy="185.05" r="1.45" fill="#70b8f6"/>
<circle cx="456.65" cy="204.49" r="1.45" fill="#70b8f6"/>
<circle cx="448.31" cy="202.10" r="1.45" fill="#70b8f6"/>
<circle cx="455.87" cy="183.38" r="1.45" fill="#70b8f6"/>
<circle cx="452.53" cy="187.64" r="1.45" fill="#70b8f6"/>
<circle cx="454.91" cy="180.38" r="1.45" fill="#70b8f6"/>
<circle cx="451.15" cy="196.40" r="1.45" fill="#70b8f6"/>
<circle cx="456.05" cy="176.93" r="1.45" fill="#70b8f6"/>
<circle cx="455.54" cy="181.60" r="1.45" fill="#70b8f6"/>
<circle cx="456.22" cy="215.55" r="1.45" fill="#70b8f6"/>
<circle cx="449.13" cy="211.29" r="1.45" fill="#70b8f6"/>
<circle cx="456.11" cy="178.59" r="1.45" fill="#70b8f6"/>
<circle cx="451.13" cy="188.35" r="1.45" fill="#70b8f6"/>
<circle cx="449.42" cy="207.28" r="1.45" fill="#70b8f6"/>
<circle cx="447.74" cy="203.61" r="1.45" fill="#70b8f6"/>
<circle cx="453.53" cy="213.16" r="1.45" fill="#70b8f6"/>
<circle cx="451.65" cy="212.50" r="1.45" fill="#70b8f6"/>
<circle cx="450.64" cy="197.22" r="1.45" fill="#70b8f6"/>
<circle cx="452.94" cy="208.94" r="1.45" fill="#70b8f6"/>
<circle cx="456.49" cy="177.08" r="1.45" fill="#70b8f6"/>
<circle cx="455.40" cy="195.48" r="1.45" fill="#70b8f6"/>
<circle cx="448.83" cy="214.32" r="1.45" fill="#70b8f6"/>
<circle cx="454.17" cy="210.12" r="1.45" fill="#70b8f6"/>
<circle cx="457.80" cy="207.60" r="1.45" fill="#70b8f6"/>
<circle cx="450.43" cy="199.37" r="1.45" fill="#70b8f6"/>
<circle cx="455.66" cy="203.50" r="1.45" fill="#70b8f6"/>
<circle cx="448.72" cy="205.53" r="1.45" fill="#70b8f6"/>
<circle cx="457.75" cy="192.73" r="1.45" fill="#70b8f6"/>
<circle cx="448.43" cy="206.53" r="1.45" fill="#70b8f6"/>
<circle cx="427.88" cy="232.71" r="1.45" fill="#70b8f6"/>
<circle cx="436.21" cy="238.55" r="1.45" fill="#70b8f6"/>
<circle cx="439.23" cy="234.19" r="1.45" fill="#70b8f6"/>
<circle cx="434.37" cy="231.17" r="1.45" fill="#70b8f6"/>
<circle cx="432.92" cy="238.63" r="1.45" fill="#70b8f6"/>
<circle cx="435.36" cy="230.62" r="1.45" fill="#70b8f6"/>
<circle cx="433.60" cy="238.19" r="1.45" fill="#70b8f6"/>
<circle cx="438.75" cy="236.45" r="1.45" fill="#70b8f6"/>
<circle cx="426.49" cy="235.56" r="1.45" fill="#70b8f6"/>
<circle cx="432.01" cy="230.49" r="1.45" fill="#70b8f6"/>
<circle cx="436.33" cy="230.65" r="1.45" fill="#70b8f6"/>
<circle cx="432.46" cy="230.35" r="1.45" fill="#70b8f6"/>
<circle cx="480.18" cy="218.00" r="1.45" fill="#fc9797"/>
<circle cx="467.11" cy="197.36" r="1.45" fill="#fc9797"/>
<circle cx="474.53" cy="229.16" r="1.45" fill="#fc9797"/>
<circle cx="482.54" cy="218.28" r="1.45" fill="#fc9797"/>
<circle cx="470.90" cy="202.12" r="1.45" fill="#fc9797"/>
<circle cx="471.38" cy="236.14" r="1.45" fill="#fc9797"/>
<circle cx="468.46" cy="229.77" r="1.45" fill="#fc9797"/>
<circle cx="468.90" cy="220.15" r="1.45" fill="#fc9797"/>
<circle cx="468.51" cy="236.80" r="1.45" fill="#fc9797"/>
<circle cx="469.97" cy="200.89" r="1.45" fill="#fc9797"/>
<circle cx="470.61" cy="192.82" r="1.45" fill="#fc9797"/>
<circle cx="471.63" cy="229.55" r="1.45" fill="#fc9797"/>
<circle cx="470.01" cy="187.15" r="1.45" fill="#fc9797"/>
<circle cx="467.59" cy="230.05" r="1.45" fill="#fc9797"/>
<circle cx="473.07" cy="201.19" r="1.45" fill="#fc9797"/>
<circle cx="477.75" cy="226.35" r="1.45" fill="#fc9797"/>
<circle cx="469.69" cy="210.15" r="1.45" fill="#fc9797"/>
<circle cx="471.82" cy="220.80" r="1.45" fill="#fc9797"/>
<circle cx="467.84" cy="190.19" r="1.45" fill="#fc9797"/>
<circle cx="476.51" cy="216.50" r="1.45" fill="#fc9797"/>
<circle cx="468.27" cy="203.53" r="1.45" fill="#fc9797"/>
<circle cx="480.23" cy="239.99" r="1.45" fill="#fc9797"/>
<circle cx="480.36" cy="239.78" r="1.45" fill="#fc9797"/>
<circle cx="471.53" cy="237.47" r="1.45" fill="#fc9797"/>
<circle cx="466.99" cy="189.58" r="1.45" fill="#fc9797"/>
<circle cx="467.93" cy="215.19" r="1.45" fill="#fc9797"/>
<circle cx="475.89" cy="227.48" r="1.45" fill="#fc9797"/>
<circle cx="473.27" cy="208.49" r="1.45" fill="#fc9797"/>
<circle cx="480.26" cy="215.77" r="1.45" fill="#fc9797"/>
<circle cx="474.21" cy="239.11" r="1.45" fill="#fc9797"/>
<circle cx="475.02" cy="233.74" r="1.45" fill="#fc9797"/>
<circle cx="474.65" cy="238.90" r="1.45" fill="#fc9797"/>
<circle cx="481.33" cy="220.81" r="1.45" fill="#fc9797"/>
<circle cx="470.51" cy="234.71" r="1.45" fill="#fc9797"/>
<circle cx="483.39" cy="235.77" r="1.45" fill="#fc9797"/>
<circle cx="467.28" cy="221.84" r="1.45" fill="#fc9797"/>
<circle cx="492.29" cy="228.23" r="1.45" fill="#fc9797"/>
<circle cx="481.89" cy="227.61" r="1.45" fill="#fc9797"/>
<circle cx="470.32" cy="209.00" r="1.45" fill="#fc9797"/>
<circle cx="473.73" cy="199.70" r="1.45" fill="#fc9797"/>
<circle cx="475.93" cy="220.03" r="1.45" fill="#fc9797"/>
<circle cx="475.61" cy="220.79" r="1.45" fill="#fc9797"/>
<circle cx="467.64" cy="205.61" r="1.45" fill="#fc9797"/>
<circle cx="472.48" cy="201.57" r="1.45" fill="#fc9797"/>
<circle cx="473.01" cy="237.08" r="1.45" fill="#fc9797"/>
<circle cx="480.93" cy="220.96" r="1.45" fill="#fc9797"/>
<circle cx="471.38" cy="203.92" r="1.45" fill="#fc9797"/>
<circle cx="483.90" cy="231.53" r="1.45" fill="#fc9797"/>
<circle cx="473.85" cy="203.55" r="1.45" fill="#fc9797"/>
<circle cx="490.91" cy="230.71" r="1.45" fill="#fc9797"/>
<circle cx="473.22" cy="209.27" r="1.45" fill="#fc9797"/>
<circle cx="473.16" cy="209.73" r="1.45" fill="#fc9797"/>
<circle cx="477.77" cy="233.74" r="1.45" fill="#fc9797"/>
<circle cx="470.35" cy="216.79" r="1.45" fill="#fc9797"/>
<circle cx="468.29" cy="230.98" r="1.45" fill="#fc9797"/>
<circle cx="491.43" cy="229.94" r="1.45" fill="#fc9797"/>
<circle cx="476.92" cy="223.63" r="1.45" fill="#fc9797"/>
<circle cx="491.20" cy="230.81" r="1.45" fill="#fc9797"/>
<circle cx="472.76" cy="234.23" r="1.45" fill="#fc9797"/>
<circle cx="467.49" cy="192.51" r="1.45" fill="#fc9797"/>
<circle cx="467.17" cy="182.49" r="1.45" fill="#fc9797"/>
<circle cx="471.40" cy="222.26" r="1.45" fill="#fc9797"/>
<circle cx="471.99" cy="192.77" r="1.45" fill="#fc9797"/>
<circle cx="469.69" cy="220.00" r="1.45" fill="#fc9797"/>
<circle cx="481.68" cy="217.56" r="1.45" fill="#fc9797"/>
<circle cx="483.94" cy="225.03" r="1.45" fill="#fc9797"/>
<circle cx="468.56" cy="177.89" r="1.45" fill="#fc9797"/>
<circle cx="467.04" cy="188.22" r="1.45" fill="#fc9797"/>
<circle cx="469.99" cy="220.02" r="1.45" fill="#fc9797"/>
<circle cx="473.23" cy="237.61" r="1.45" fill="#fc9797"/>
<circle cx="475.21" cy="237.42" r="1.45" fill="#fc9797"/>
<circle cx="467.15" cy="186.68" r="1.45" fill="#fc9797"/>
<circle cx="480.40" cy="223.36" r="1.45" fill="#fc9797"/>
<circle cx="477.67" cy="214.71" r="1.45" fill="#fc9797"/>
<circle cx="470.38" cy="209.49" r="1.45" fill="#fc9797"/>
<circle cx="473.91" cy="200.55" r="1.45" fill="#fc9797"/>
<circle cx="469.69" cy="223.80" r="1.45" fill="#fc9797"/>
<circle cx="471.68" cy="199.18" r="1.45" fill="#fc9797"/>
<circle cx="476.17" cy="218.00" r="1.45" fill="#fc9797"/>
<circle cx="473.86" cy="229.11" r="1.45" fill="#fc9797"/>
<circle cx="471.64" cy="201.99" r="1.45" fill="#fc9797"/>
<circle cx="474.77" cy="231.41" r="1.45" fill="#fc9797"/>
<circle cx="486.97" cy="224.86" r="1.45" fill="#fc9797"/>
<circle cx="473.55" cy="208.40" r="1.45" fill="#fc9797"/>
<circle cx="491.91" cy="227.66" r="1.45" fill="#fc9797"/>
<circle cx="477.81" cy="240.61" r="1.45" fill="#fc9797"/>
<circle cx="468.22" cy="178.53" r="1.45" fill="#fc9797"/>
<circle cx="470.24" cy="230.73" r="1.45" fill="#fc9797"/>
<circle cx="483.76" cy="238.11" r="1.45" fill="#fc9797"/>
<circle cx="470.92" cy="186.65" r="1.45" fill="#fc9797"/>
<circle cx="469.96" cy="197.17" r="1.45" fill="#fc9797"/>
<circle cx="478.12" cy="216.48" r="1.45" fill="#fc9797"/>
<circle cx="469.85" cy="201.40" r="1.45" fill="#fc9797"/>
<circle cx="474.32" cy="218.49" r="1.45" fill="#fc9797"/>
<circle cx="473.27" cy="219.02" r="1.45" fill="#fc9797"/>
<circle cx="467.05" cy="190.05" r="1.45" fill="#fc9797"/>
<circle cx="475.91" cy="210.89" r="1.45" fill="#fc9797"/>
<circle cx="470.58" cy="202.82" r="1.45" fill="#fc9797"/>
<circle cx="472.99" cy="215.26" r="1.45" fill="#fc9797"/>
<circle cx="469.91" cy="196.20" r="1.45" fill="#fc9797"/>
<circle cx="477.89" cy="218.41" r="1.45" fill="#fc9797"/>
<circle cx="467.61" cy="215.37" r="1.45" fill="#fc9797"/>
<circle cx="471.20" cy="208.35" r="1.45" fill="#fc9797"/>
<circle cx="474.96" cy="210.39" r="1.45" fill="#fc9797"/>
<circle cx="477.65" cy="213.83" r="1.45" fill="#fc9797"/>
<circle cx="478.59" cy="217.13" r="1.45" fill="#fc9797"/>
<circle cx="467.00" cy="209.09" r="1.45" fill="#fc9797"/>
<circle cx="471.39" cy="198.98" r="1.45" fill="#fc9797"/>
<circle cx="471.17" cy="217.87" r="1.45" fill="#fc9797"/>
<circle cx="471.01" cy="206.77" r="1.45" fill="#fc9797"/>
<circle cx="467.58" cy="191.20" r="1.45" fill="#fc9797"/>
<circle cx="468.23" cy="215.06" r="1.45" fill="#fc9797"/>
<circle cx="468.10" cy="197.37" r="1.45" fill="#fc9797"/>
<circle cx="473.19" cy="217.64" r="1.45" fill="#fc9797"/>
<circle cx="472.00" cy="213.37" r="1.45" fill="#fc9797"/>
<circle cx="466.86" cy="213.19" r="1.45" fill="#fc9797"/>
<circle cx="468.85" cy="208.60" r="1.45" fill="#fc9797"/>
<circle cx="469.88" cy="205.06" r="1.45" fill="#fc9797"/>
<circle cx="468.87" cy="210.47" r="1.45" fill="#fc9797"/>
<circle cx="476.00" cy="213.22" r="1.45" fill="#fc9797"/>
<circle cx="468.11" cy="208.26" r="1.45" fill="#fc9797"/>
<circle cx="469.51" cy="209.37" r="1.45" fill="#fc9797"/>
<circle cx="473.87" cy="216.85" r="1.45" fill="#fc9797"/>
<circle cx="472.98" cy="206.47" r="1.45" fill="#fc9797"/>
<circle cx="470.06" cy="219.10" r="1.45" fill="#fc9797"/>
<circle cx="467.11" cy="196.97" r="1.45" fill="#fc9797"/>
<circle cx="467.20" cy="201.24" r="1.45" fill="#fc9797"/>
<circle cx="472.92" cy="213.40" r="1.45" fill="#fc9797"/>
<circle cx="471.95" cy="214.01" r="1.45" fill="#fc9797"/>
<circle cx="472.15" cy="207.87" r="1.45" fill="#fc9797"/>
<circle cx="473.13" cy="220.01" r="1.45" fill="#fc9797"/>
<circle cx="469.62" cy="192.92" r="1.45" fill="#fc9797"/>
<circle cx="475.49" cy="210.03" r="1.45" fill="#fc9797"/>
<circle cx="469.12" cy="216.22" r="1.45" fill="#fc9797"/>
<circle cx="470.36" cy="205.71" r="1.45" fill="#fc9797"/>
<polygon points="457.80,243.30 434.00,243.30 438.00,238.00 441.00,230.00 444.00,221.00 447.00,213.00 450.00,205.00 453.00,197.00 457.80,191.00" fill="#70b8f6"/>
<circle cx="458.15" cy="243.43" r="1.45" fill="#70b8f6"/>
<circle cx="454.05" cy="243.66" r="1.45" fill="#70b8f6"/>
<circle cx="453.32" cy="243.25" r="1.45" fill="#70b8f6"/>
<circle cx="450.31" cy="243.73" r="1.45" fill="#70b8f6"/>
<circle cx="447.59" cy="243.33" r="1.45" fill="#70b8f6"/>
<circle cx="445.23" cy="242.96" r="1.45" fill="#70b8f6"/>
<circle cx="443.16" cy="243.11" r="1.45" fill="#70b8f6"/>
<circle cx="441.04" cy="243.09" r="1.45" fill="#70b8f6"/>
<circle cx="437.84" cy="243.15" r="1.45" fill="#70b8f6"/>
<circle cx="436.11" cy="242.82" r="1.45" fill="#70b8f6"/>
<circle cx="434.54" cy="242.34" r="1.45" fill="#70b8f6"/>
<circle cx="436.08" cy="240.72" r="1.45" fill="#70b8f6"/>
<circle cx="437.14" cy="239.04" r="1.45" fill="#70b8f6"/>
<circle cx="438.31" cy="236.89" r="1.45" fill="#70b8f6"/>
<circle cx="439.83" cy="234.26" r="1.45" fill="#70b8f6"/>
<circle cx="440.62" cy="231.69" r="1.45" fill="#70b8f6"/>
<circle cx="441.00" cy="229.10" r="1.45" fill="#70b8f6"/>
<circle cx="441.37" cy="227.84" r="1.45" fill="#70b8f6"/>
<circle cx="442.26" cy="224.80" r="1.45" fill="#70b8f6"/>
<circle cx="443.94" cy="222.47" r="1.45" fill="#70b8f6"/>
<circle cx="443.88" cy="220.42" r="1.45" fill="#70b8f6"/>
<circle cx="444.89" cy="217.67" r="1.45" fill="#70b8f6"/>
<circle cx="446.59" cy="215.79" r="1.45" fill="#70b8f6"/>
<circle cx="447.02" cy="212.74" r="1.45" fill="#70b8f6"/>
<circle cx="448.01" cy="209.42" r="1.45" fill="#70b8f6"/>
<circle cx="449.17" cy="207.16" r="1.45" fill="#70b8f6"/>
<circle cx="450.11" cy="204.24" r="1.45" fill="#70b8f6"/>
<circle cx="450.72" cy="201.88" r="1.45" fill="#70b8f6"/>
<circle cx="451.54" cy="199.42" r="1.45" fill="#70b8f6"/>
<circle cx="453.27" cy="196.80" r="1.45" fill="#70b8f6"/>
<circle cx="455.36" cy="194.47" r="1.45" fill="#70b8f6"/>
<circle cx="456.79" cy="191.95" r="1.45" fill="#70b8f6"/>
<circle cx="457.45" cy="192.34" r="1.45" fill="#70b8f6"/>
<circle cx="457.34" cy="194.34" r="1.45" fill="#70b8f6"/>
<circle cx="457.93" cy="196.80" r="1.45" fill="#70b8f6"/>
<circle cx="457.44" cy="198.77" r="1.45" fill="#70b8f6"/>
<circle cx="458.13" cy="200.97" r="1.45" fill="#70b8f6"/>
<circle cx="457.88" cy="203.70" r="1.45" fill="#70b8f6"/>
<circle cx="457.99" cy="205.15" r="1.45" fill="#70b8f6"/>
<circle cx="457.43" cy="206.81" r="1.45" fill="#70b8f6"/>
<circle cx="458.14" cy="209.37" r="1.45" fill="#70b8f6"/>
<circle cx="457.93" cy="212.36" r="1.45" fill="#70b8f6"/>
<circle cx="457.30" cy="214.59" r="1.45" fill="#70b8f6"/>
<circle cx="457.80" cy="216.90" r="1.45" fill="#70b8f6"/>
<circle cx="457.37" cy="219.27" r="1.45" fill="#70b8f6"/>
<circle cx="457.37" cy="220.61" r="1.45" fill="#70b8f6"/>
<circle cx="457.51" cy="223.90" r="1.45" fill="#70b8f6"/>
<circle cx="457.79" cy="226.10" r="1.45" fill="#70b8f6"/>
<circle cx="457.98" cy="228.19" r="1.45" fill="#70b8f6"/>
<circle cx="457.94" cy="229.94" r="1.45" fill="#70b8f6"/>
<circle cx="457.55" cy="232.34" r="1.45" fill="#70b8f6"/>
<circle cx="457.87" cy="234.06" r="1.45" fill="#70b8f6"/>
<circle cx="457.57" cy="236.72" r="1.45" fill="#70b8f6"/>
<circle cx="457.98" cy="239.33" r="1.45" fill="#70b8f6"/>
<circle cx="457.76" cy="241.58" r="1.45" fill="#70b8f6"/>
<polygon points="467.00,243.30 467.00,213.00 469.00,219.00 471.50,225.50 475.00,230.00 481.00,233.00 488.00,235.00 494.00,234.00 500.50,230.50 500.00,233.50 494.00,238.00 487.00,242.00 482.00,243.30" fill="#fc9797"/>
<circle cx="467.39" cy="242.86" r="1.45" fill="#fc9797"/>
<circle cx="467.44" cy="239.35" r="1.45" fill="#fc9797"/>
<circle cx="467.32" cy="238.57" r="1.45" fill="#fc9797"/>
<circle cx="466.77" cy="235.49" r="1.45" fill="#fc9797"/>
<circle cx="466.71" cy="232.96" r="1.45" fill="#fc9797"/>
<circle cx="467.02" cy="231.93" r="1.45" fill="#fc9797"/>
<circle cx="467.32" cy="229.17" r="1.45" fill="#fc9797"/>
<circle cx="467.20" cy="225.68" r="1.45" fill="#fc9797"/>
<circle cx="466.99" cy="223.13" r="1.45" fill="#fc9797"/>
<circle cx="466.99" cy="222.27" r="1.45" fill="#fc9797"/>
<circle cx="466.64" cy="219.48" r="1.45" fill="#fc9797"/>
<circle cx="467.34" cy="216.79" r="1.45" fill="#fc9797"/>
<circle cx="467.34" cy="214.08" r="1.45" fill="#fc9797"/>
<circle cx="467.68" cy="214.79" r="1.45" fill="#fc9797"/>
<circle cx="468.02" cy="216.33" r="1.45" fill="#fc9797"/>
<circle cx="469.51" cy="219.94" r="1.45" fill="#fc9797"/>
<circle cx="469.79" cy="221.18" r="1.45" fill="#fc9797"/>
<circle cx="471.04" cy="223.23" r="1.45" fill="#fc9797"/>
<circle cx="472.07" cy="226.32" r="1.45" fill="#fc9797"/>
<circle cx="473.39" cy="228.20" r="1.45" fill="#fc9797"/>
<circle cx="476.34" cy="230.79" r="1.45" fill="#fc9797"/>
<circle cx="478.04" cy="231.76" r="1.45" fill="#fc9797"/>
<circle cx="479.77" cy="231.82" r="1.45" fill="#fc9797"/>
<circle cx="481.81" cy="233.50" r="1.45" fill="#fc9797"/>
<circle cx="483.87" cy="233.43" r="1.45" fill="#fc9797"/>
<circle cx="486.38" cy="234.61" r="1.45" fill="#fc9797"/>
<circle cx="488.31" cy="235.15" r="1.45" fill="#fc9797"/>
<circle cx="492.22" cy="234.41" r="1.45" fill="#fc9797"/>
<circle cx="494.38" cy="233.72" r="1.45" fill="#fc9797"/>
<circle cx="496.01" cy="232.44" r="1.45" fill="#fc9797"/>
<circle cx="499.31" cy="230.86" r="1.45" fill="#fc9797"/>
<circle cx="500.77" cy="231.81" r="1.45" fill="#fc9797"/>
<circle cx="499.55" cy="233.20" r="1.45" fill="#fc9797"/>
<circle cx="497.25" cy="235.00" r="1.45" fill="#fc9797"/>
<circle cx="495.81" cy="237.08" r="1.45" fill="#fc9797"/>
<circle cx="493.04" cy="238.41" r="1.45" fill="#fc9797"/>
<circle cx="490.93" cy="239.52" r="1.45" fill="#fc9797"/>
<circle cx="489.04" cy="241.18" r="1.45" fill="#fc9797"/>
<circle cx="486.85" cy="242.17" r="1.45" fill="#fc9797"/>
<circle cx="483.14" cy="242.70" r="1.45" fill="#fc9797"/>
<circle cx="481.59" cy="243.25" r="1.45" fill="#fc9797"/>
<circle cx="478.66" cy="243.67" r="1.45" fill="#fc9797"/>
<circle cx="476.50" cy="243.51" r="1.45" fill="#fc9797"/>
<circle cx="473.35" cy="243.39" r="1.45" fill="#fc9797"/>
<circle cx="471.89" cy="243.73" r="1.45" fill="#fc9797"/>
<circle cx="468.82" cy="243.77" r="1.45" fill="#fc9797"/>
<line x1="416.00" y1="225.00" x2="440.00" y2="241.80" stroke="#70b8f6" stroke-width="2.9" stroke-linecap="round"/>
<line x1="482.00" y1="242.30" x2="500.50" y2="231.00" stroke="#fc9797" stroke-width="2.9" stroke-linecap="round"/>
<circle cx="447.20" cy="93.30" r="1.45" fill="#70b8f6"/>
<circle cx="449.90" cy="96.70" r="1.45" fill="#70b8f6"/>
<circle cx="444.10" cy="98.50" r="1.45" fill="#70b8f6"/>
<circle cx="455.50" cy="97.60" r="1.45" fill="#70b8f6"/>
<circle cx="438.30" cy="100.50" r="1.45" fill="#70b8f6"/>
<circle cx="436.80" cy="101.50" r="1.45" fill="#70b8f6"/>
<circle cx="449.20" cy="101.30" r="1.45" fill="#70b8f6"/>
<circle cx="446.50" cy="106.00" r="1.45" fill="#70b8f6"/>
<circle cx="448.60" cy="106.00" r="1.45" fill="#70b8f6"/>
<circle cx="441.40" cy="108.70" r="1.45" fill="#70b8f6"/>
<circle cx="451.90" cy="108.70" r="1.45" fill="#70b8f6"/>
<circle cx="445.40" cy="116.70" r="1.45" fill="#70b8f6"/>
<circle cx="448.60" cy="118.70" r="1.45" fill="#70b8f6"/>
<circle cx="450.10" cy="119.60" r="1.45" fill="#70b8f6"/>
<circle cx="451.40" cy="118.20" r="1.45" fill="#70b8f6"/>
<circle cx="453.70" cy="116.70" r="1.45" fill="#70b8f6"/>
<circle cx="449.50" cy="120.90" r="1.45" fill="#70b8f6"/>
<circle cx="451.40" cy="123.60" r="1.45" fill="#70b8f6"/>
<circle cx="456.80" cy="126.40" r="1.45" fill="#70b8f6"/>
<circle cx="446.50" cy="130.50" r="1.45" fill="#70b8f6"/>
<circle cx="452.60" cy="131.50" r="1.45" fill="#70b8f6"/>
<circle cx="455.00" cy="130.50" r="1.45" fill="#70b8f6"/>
<circle cx="446.50" cy="134.90" r="1.45" fill="#70b8f6"/>
<circle cx="449.20" cy="134.90" r="1.45" fill="#70b8f6"/>
<circle cx="451.90" cy="137.30" r="1.45" fill="#70b8f6"/>
<circle cx="453.20" cy="138.50" r="1.45" fill="#70b8f6"/>
<circle cx="454.10" cy="140.00" r="1.45" fill="#70b8f6"/>
<circle cx="450.50" cy="140.00" r="1.45" fill="#70b8f6"/>
<circle cx="455.50" cy="143.30" r="1.45" fill="#70b8f6"/>
<circle cx="444.60" cy="148.20" r="1.45" fill="#70b8f6"/>
<circle cx="450.10" cy="147.30" r="1.45" fill="#70b8f6"/>
<circle cx="457.70" cy="148.20" r="1.45" fill="#70b8f6"/>
<circle cx="431.70" cy="149.60" r="1.45" fill="#70b8f6"/>
<circle cx="441.90" cy="153.60" r="1.45" fill="#70b8f6"/>
<circle cx="445.90" cy="154.20" r="1.45" fill="#70b8f6"/>
<circle cx="452.60" cy="152.70" r="1.45" fill="#70b8f6"/>
<circle cx="454.10" cy="154.50" r="1.45" fill="#70b8f6"/>
<circle cx="455.50" cy="156.40" r="1.45" fill="#70b8f6"/>
<circle cx="450.50" cy="157.60" r="1.45" fill="#70b8f6"/>
<circle cx="450.90" cy="96.40" r="1.45" fill="#70b8f6"/>
<circle cx="435.00" cy="161.80" r="1.45" fill="#70b8f6"/>
<circle cx="440.10" cy="166.30" r="1.45" fill="#70b8f6"/>
<circle cx="443.60" cy="165.50" r="1.45" fill="#70b8f6"/>
<circle cx="438.90" cy="173.20" r="1.45" fill="#70b8f6"/>
<circle cx="437.50" cy="178.30" r="1.45" fill="#70b8f6"/>
<circle cx="433.80" cy="181.50" r="1.45" fill="#70b8f6"/>
<circle cx="449.10" cy="176.50" r="1.45" fill="#70b8f6"/>
<circle cx="450.30" cy="174.60" r="1.45" fill="#70b8f6"/>
<circle cx="455.60" cy="169.50" r="1.45" fill="#70b8f6"/>
<circle cx="454.90" cy="171.70" r="1.45" fill="#70b8f6"/>
<circle cx="456.40" cy="178.30" r="1.45" fill="#70b8f6"/>
<circle cx="454.20" cy="181.20" r="1.45" fill="#70b8f6"/>
<circle cx="457.10" cy="180.50" r="1.45" fill="#70b8f6"/>
<circle cx="451.30" cy="183.40" r="1.45" fill="#70b8f6"/>
<circle cx="453.50" cy="184.10" r="1.45" fill="#70b8f6"/>
<circle cx="456.40" cy="184.10" r="1.45" fill="#70b8f6"/>
<circle cx="451.30" cy="186.30" r="1.45" fill="#70b8f6"/>
<circle cx="455.60" cy="187.00" r="1.45" fill="#70b8f6"/>
<circle cx="441.10" cy="188.50" r="1.45" fill="#70b8f6"/>
<circle cx="454.90" cy="189.90" r="1.45" fill="#70b8f6"/>
<circle cx="431.60" cy="193.50" r="1.45" fill="#70b8f6"/>
<circle cx="442.50" cy="193.50" r="1.45" fill="#70b8f6"/>
<circle cx="447.30" cy="192.50" r="1.45" fill="#70b8f6"/>
<circle cx="452.00" cy="193.50" r="1.45" fill="#70b8f6"/>
<circle cx="454.90" cy="194.30" r="1.45" fill="#70b8f6"/>
<circle cx="431.30" cy="198.60" r="1.45" fill="#70b8f6"/>
<circle cx="441.50" cy="195.70" r="1.45" fill="#70b8f6"/>
<circle cx="438.20" cy="198.60" r="1.45" fill="#70b8f6"/>
<circle cx="436.70" cy="201.30" r="1.45" fill="#70b8f6"/>
<circle cx="446.20" cy="199.40" r="1.45" fill="#70b8f6"/>
<circle cx="451.30" cy="198.60" r="1.45" fill="#70b8f6"/>
<circle cx="454.90" cy="198.60" r="1.45" fill="#70b8f6"/>
<circle cx="457.10" cy="197.20" r="1.45" fill="#70b8f6"/>
<circle cx="446.20" cy="203.00" r="1.45" fill="#70b8f6"/>
<circle cx="450.50" cy="203.00" r="1.45" fill="#70b8f6"/>
<circle cx="453.50" cy="203.00" r="1.45" fill="#70b8f6"/>
<circle cx="456.40" cy="203.00" r="1.45" fill="#70b8f6"/>
<circle cx="441.10" cy="205.20" r="1.45" fill="#70b8f6"/>
<circle cx="445.50" cy="206.60" r="1.45" fill="#70b8f6"/>
<circle cx="449.10" cy="205.90" r="1.45" fill="#70b8f6"/>
<circle cx="452.70" cy="206.60" r="1.45" fill="#70b8f6"/>
<circle cx="455.60" cy="206.60" r="1.45" fill="#70b8f6"/>
<circle cx="428.00" cy="212.20" r="1.45" fill="#70b8f6"/>
<circle cx="438.20" cy="211.00" r="1.45" fill="#70b8f6"/>
<circle cx="440.40" cy="212.50" r="1.45" fill="#70b8f6"/>
<circle cx="446.20" cy="211.00" r="1.45" fill="#70b8f6"/>
<circle cx="449.10" cy="210.30" r="1.45" fill="#70b8f6"/>
<circle cx="452.00" cy="211.70" r="1.45" fill="#70b8f6"/>
<circle cx="455.60" cy="211.00" r="1.45" fill="#70b8f6"/>
<circle cx="450.50" cy="157.20" r="1.45" fill="#70b8f6"/>
<circle cx="454.20" cy="159.40" r="1.45" fill="#70b8f6"/>
<circle cx="456.40" cy="156.50" r="1.45" fill="#70b8f6"/>
<circle cx="455.60" cy="162.30" r="1.45" fill="#70b8f6"/>
<circle cx="435.00" cy="162.20" r="1.45" fill="#70b8f6"/>
<circle cx="433.70" cy="181.50" r="1.45" fill="#70b8f6"/>
<circle cx="437.30" cy="178.30" r="1.45" fill="#70b8f6"/>
<circle cx="431.40" cy="193.80" r="1.45" fill="#70b8f6"/>
<circle cx="431.40" cy="199.00" r="1.45" fill="#70b8f6"/>
<circle cx="428.20" cy="212.40" r="1.45" fill="#70b8f6"/>
<circle cx="427.50" cy="223.80" r="1.45" fill="#70b8f6"/>
<circle cx="430.30" cy="221.80" r="1.45" fill="#70b8f6"/>
<circle cx="411.00" cy="222.10" r="1.45" fill="#70b8f6"/>
<circle cx="414.10" cy="224.60" r="1.45" fill="#70b8f6"/>
<circle cx="438.60" cy="211.10" r="1.45" fill="#70b8f6"/>
<circle cx="440.10" cy="215.20" r="1.45" fill="#70b8f6"/>
<circle cx="427.70" cy="223.20" r="1.45" fill="#70b8f6"/>
<circle cx="429.90" cy="221.70" r="1.45" fill="#70b8f6"/>
<circle cx="434.30" cy="223.90" r="1.45" fill="#70b8f6"/>
<circle cx="435.70" cy="226.10" r="1.45" fill="#70b8f6"/>
<circle cx="431.40" cy="239.90" r="1.45" fill="#70b8f6"/>
<circle cx="437.00" cy="219.00" r="1.45" fill="#70b8f6"/>
<circle cx="433.00" cy="229.00" r="1.45" fill="#70b8f6"/>
<circle cx="436.00" cy="232.00" r="1.45" fill="#70b8f6"/>
<circle cx="475.10" cy="81.60" r="1.45" fill="#fc9797"/>
<circle cx="487.80" cy="88.20" r="1.45" fill="#fc9797"/>
<circle cx="469.60" cy="90.90" r="1.45" fill="#fc9797"/>
<circle cx="472.70" cy="92.50" r="1.45" fill="#fc9797"/>
<circle cx="476.40" cy="93.60" r="1.45" fill="#fc9797"/>
<circle cx="468.30" cy="104.50" r="1.45" fill="#fc9797"/>
<circle cx="469.20" cy="109.10" r="1.45" fill="#fc9797"/>
<circle cx="477.40" cy="119.10" r="1.45" fill="#fc9797"/>
<circle cx="468.30" cy="124.50" r="1.45" fill="#fc9797"/>
<circle cx="476.30" cy="126.40" r="1.45" fill="#fc9797"/>
<circle cx="489.20" cy="126.40" r="1.45" fill="#fc9797"/>
<circle cx="470.10" cy="131.50" r="1.45" fill="#fc9797"/>
<circle cx="481.40" cy="132.40" r="1.45" fill="#fc9797"/>
<circle cx="475.50" cy="137.30" r="1.45" fill="#fc9797"/>
<circle cx="479.50" cy="137.30" r="1.45" fill="#fc9797"/>
<circle cx="479.50" cy="139.50" r="1.45" fill="#fc9797"/>
<circle cx="470.80" cy="140.90" r="1.45" fill="#fc9797"/>
<circle cx="471.40" cy="141.80" r="1.45" fill="#fc9797"/>
<circle cx="482.80" cy="147.80" r="1.45" fill="#fc9797"/>
<circle cx="473.20" cy="150.40" r="1.45" fill="#fc9797"/>
<circle cx="476.80" cy="150.40" r="1.45" fill="#fc9797"/>
<circle cx="468.30" cy="151.80" r="1.45" fill="#fc9797"/>
<circle cx="472.60" cy="154.20" r="1.45" fill="#fc9797"/>
<circle cx="479.50" cy="158.20" r="1.45" fill="#fc9797"/>
<circle cx="468.30" cy="158.50" r="1.45" fill="#fc9797"/>
<circle cx="510.70" cy="131.20" r="1.45" fill="#fc9797"/>
<circle cx="481.30" cy="132.40" r="1.45" fill="#fc9797"/>
<circle cx="470.70" cy="131.60" r="1.45" fill="#fc9797"/>
<circle cx="471.20" cy="141.40" r="1.45" fill="#fc9797"/>
<circle cx="482.70" cy="147.60" r="1.45" fill="#fc9797"/>
<circle cx="472.20" cy="154.50" r="1.45" fill="#fc9797"/>
<circle cx="468.70" cy="158.60" r="1.45" fill="#fc9797"/>
<circle cx="479.30" cy="157.90" r="1.45" fill="#fc9797"/>
<circle cx="473.50" cy="165.50" r="1.45" fill="#fc9797"/>
<circle cx="483.70" cy="169.30" r="1.45" fill="#fc9797"/>
<circle cx="473.50" cy="170.30" r="1.45" fill="#fc9797"/>
<circle cx="477.00" cy="171.70" r="1.45" fill="#fc9797"/>
<circle cx="473.80" cy="174.60" r="1.45" fill="#fc9797"/>
<circle cx="479.90" cy="177.50" r="1.45" fill="#fc9797"/>
<circle cx="488.10" cy="179.00" r="1.45" fill="#fc9797"/>
<circle cx="470.60" cy="179.70" r="1.45" fill="#fc9797"/>
<circle cx="467.30" cy="181.90" r="1.45" fill="#fc9797"/>
<circle cx="469.20" cy="184.10" r="1.45" fill="#fc9797"/>
<circle cx="473.80" cy="185.50" r="1.45" fill="#fc9797"/>
<circle cx="480.40" cy="185.50" r="1.45" fill="#fc9797"/>
<circle cx="485.50" cy="186.70" r="1.45" fill="#fc9797"/>
<circle cx="467.30" cy="188.50" r="1.45" fill="#fc9797"/>
<circle cx="470.20" cy="191.40" r="1.45" fill="#fc9797"/>
<circle cx="472.40" cy="191.40" r="1.45" fill="#fc9797"/>
<circle cx="477.50" cy="193.10" r="1.45" fill="#fc9797"/>
<circle cx="479.60" cy="194.00" r="1.45" fill="#fc9797"/>
<circle cx="468.00" cy="193.50" r="1.45" fill="#fc9797"/>
<circle cx="468.00" cy="196.50" r="1.45" fill="#fc9797"/>
<circle cx="474.50" cy="198.30" r="1.45" fill="#fc9797"/>
<circle cx="484.00" cy="197.90" r="1.45" fill="#fc9797"/>
<circle cx="467.30" cy="201.50" r="1.45" fill="#fc9797"/>
<circle cx="471.60" cy="203.00" r="1.45" fill="#fc9797"/>
<circle cx="488.40" cy="203.70" r="1.45" fill="#fc9797"/>
<circle cx="486.90" cy="205.20" r="1.45" fill="#fc9797"/>
<circle cx="467.30" cy="205.90" r="1.45" fill="#fc9797"/>
<circle cx="470.20" cy="207.40" r="1.45" fill="#fc9797"/>
<circle cx="475.30" cy="207.40" r="1.45" fill="#fc9797"/>
<circle cx="479.60" cy="207.40" r="1.45" fill="#fc9797"/>
<circle cx="468.00" cy="210.30" r="1.45" fill="#fc9797"/>
<circle cx="472.40" cy="211.00" r="1.45" fill="#fc9797"/>
<circle cx="475.30" cy="211.00" r="1.45" fill="#fc9797"/>
<circle cx="484.00" cy="213.20" r="1.45" fill="#fc9797"/>
<circle cx="474.50" cy="207.20" r="1.45" fill="#fc9797"/>
<circle cx="480.40" cy="207.20" r="1.45" fill="#fc9797"/>
<circle cx="486.90" cy="205.70" r="1.45" fill="#fc9797"/>
<circle cx="489.80" cy="213.00" r="1.45" fill="#fc9797"/>
<circle cx="490.50" cy="215.90" r="1.45" fill="#fc9797"/>
<circle cx="483.30" cy="214.50" r="1.45" fill="#fc9797"/>
<circle cx="486.90" cy="217.40" r="1.45" fill="#fc9797"/>
<circle cx="478.90" cy="216.60" r="1.45" fill="#fc9797"/>
<circle cx="481.80" cy="219.50" r="1.45" fill="#fc9797"/>
<circle cx="491.30" cy="222.70" r="1.45" fill="#fc9797"/>
<circle cx="484.00" cy="223.60" r="1.45" fill="#fc9797"/>
<circle cx="489.80" cy="227.50" r="1.45" fill="#fc9797"/>
<circle cx="502.90" cy="225.40" r="1.45" fill="#fc9797"/>
<circle cx="509.50" cy="225.40" r="1.45" fill="#fc9797"/>
<circle cx="513.10" cy="222.50" r="1.45" fill="#fc9797"/>
<circle cx="503.60" cy="229.40" r="1.45" fill="#fc9797"/>
<circle cx="477.50" cy="225.40" r="1.45" fill="#fc9797"/>
<text x="433.10" y="233.60" font-size="5.9" text-anchor="middle" font-style="italic" fill="#f22828" stroke="#f22828" stroke-width="0.14">GalUR</text>
<text x="481.80" y="236.70" font-size="5.9" text-anchor="middle" font-style="italic" fill="#f22828" stroke="#f22828" stroke-width="0.14">HMGR1</text>
<line x1="458.60" y1="254.40" x2="458.60" y2="16.00" stroke="#777" stroke-width="1.0" stroke-dasharray="5.0 4.65" stroke-dashoffset="9.05"/>
<line x1="466.40" y1="254.40" x2="466.40" y2="16.00" stroke="#777" stroke-width="1.0" stroke-dasharray="5.0 4.65" stroke-dashoffset="9.05"/>
<line x1="391.10" y1="242.50" x2="533.60" y2="242.50" stroke="#777" stroke-width="1.0" stroke-dasharray="5.0 4.65"/>
<line x1="391.10" y1="16.00" x2="391.10" y2="254.90" stroke="#777" stroke-width="1.1"/>
<line x1="390.60" y1="254.40" x2="533.60" y2="254.40" stroke="#777" stroke-width="1.1"/>
<line x1="389.50" y1="243.30" x2="391.10" y2="243.30" stroke="#222" stroke-width="1.0"/>
<text x="386.70" y="245.80" font-size="8.3" stroke="#3c3c3c" stroke-width="0.08" text-anchor="end" fill="#3c3c3c">0</text>
<line x1="389.50" y1="189.10" x2="391.10" y2="189.10" stroke="#222" stroke-width="1.0"/>
<text x="388.70" y="191.60" font-size="8.3" stroke="#3c3c3c" stroke-width="0.08" text-anchor="end" fill="#3c3c3c">100</text>
<line x1="389.50" y1="134.90" x2="391.10" y2="134.90" stroke="#222" stroke-width="1.0"/>
<text x="388.70" y="137.40" font-size="8.3" stroke="#3c3c3c" stroke-width="0.08" text-anchor="end" fill="#3c3c3c">200</text>
<line x1="389.50" y1="80.70" x2="391.10" y2="80.70" stroke="#222" stroke-width="1.0"/>
<text x="388.70" y="83.20" font-size="8.3" stroke="#3c3c3c" stroke-width="0.08" text-anchor="end" fill="#3c3c3c">300</text>
<line x1="389.50" y1="26.50" x2="391.10" y2="26.50" stroke="#222" stroke-width="1.0"/>
<text x="388.70" y="29.00" font-size="8.3" stroke="#3c3c3c" stroke-width="0.08" text-anchor="end" fill="#3c3c3c">400</text>
<line x1="397.49" y1="254.40" x2="397.49" y2="256.00" stroke="#222" stroke-width="1.0"/>
<text x="398.29" y="264.90" font-size="8.3" stroke="#3c3c3c" stroke-width="0.08" text-anchor="middle" fill="#3c3c3c">−20</text>
<line x1="429.97" y1="254.40" x2="429.97" y2="256.00" stroke="#222" stroke-width="1.0"/>
<text x="430.77" y="264.90" font-size="8.3" stroke="#3c3c3c" stroke-width="0.08" text-anchor="middle" fill="#3c3c3c">−10</text>
<line x1="462.45" y1="254.40" x2="462.45" y2="256.00" stroke="#222" stroke-width="1.0"/>
<text x="462.45" y="264.90" font-size="8.3" stroke="#3c3c3c" stroke-width="0.08" text-anchor="middle" fill="#3c3c3c">0</text>
<line x1="494.93" y1="254.40" x2="494.93" y2="256.00" stroke="#222" stroke-width="1.0"/>
<text x="494.93" y="264.90" font-size="8.3" stroke="#3c3c3c" stroke-width="0.08" text-anchor="middle" fill="#3c3c3c">10</text>
<line x1="527.41" y1="254.40" x2="527.41" y2="256.00" stroke="#222" stroke-width="1.0"/>
<text x="527.41" y="264.90" font-size="8.3" stroke="#3c3c3c" stroke-width="0.08" text-anchor="middle" fill="#3c3c3c">20</text>
<text x="460.70" y="275.50" font-size="9.0" stroke="#3c3c3c" stroke-width="0.08" text-anchor="middle" fill="#3c3c3c">Log2FC</text>
<text x="369.70" y="129.60" font-size="9.2" stroke="#3c3c3c" stroke-width="0.08" text-anchor="middle" fill="#3c3c3c" transform="rotate(-90 369.70 129.60)">−Log10(padj)</text>
<circle cx="511.00" cy="18.40" r="1.4" fill="#70b8f6"/>
<text x="514.30" y="20.90" font-size="5.5" fill="#111">DOWN</text>
<circle cx="511.00" cy="28.40" r="1.4" fill="#fc9797"/>
<text x="514.30" y="30.90" font-size="5.5" fill="#111">UP</text>
<text x="374.00" y="11.50" font-size="10.0" font-weight="bold" fill="#000">C</text>
<text x="466.50" y="297.50" font-size="9.0" text-anchor="middle" font-weight="bold" fill="#404040">Leaf_Vs_Root</text>
<line x1="153.30" y1="344.30" x2="153.30" y2="545.20" stroke="#f2f2f2" stroke-width="0.6"/>
<line x1="165.00" y1="344.30" x2="165.00" y2="545.20" stroke="#ebebeb" stroke-width="0.9"/>
<line x1="176.60" y1="344.30" x2="176.60" y2="545.20" stroke="#f2f2f2" stroke-width="0.6"/>
<line x1="188.30" y1="344.30" x2="188.30" y2="545.20" stroke="#ebebeb" stroke-width="0.9"/>
<line x1="199.90" y1="344.30" x2="199.90" y2="545.20" stroke="#f2f2f2" stroke-width="0.6"/>
<line x1="143.90" y1="355.50" x2="210.60" y2="355.50" stroke="#ebebeb" stroke-width="0.9"/>
<line x1="143.90" y1="375.27" x2="210.60" y2="375.27" stroke="#ebebeb" stroke-width="0.9"/>
<line x1="143.90" y1="395.04" x2="210.60" y2="395.04" stroke="#ebebeb" stroke-width="0.9"/>
<line x1="143.90" y1="414.81" x2="210.60" y2="414.81" stroke="#ebebeb" stroke-width="0.9"/>
<line x1="143.90" y1="434.58" x2="210.60" y2="434.58" stroke="#ebebeb" stroke-width="0.9"/>
<line x1="143.90" y1="454.35" x2="210.60" y2="454.35" stroke="#ebebeb" stroke-width="0.9"/>
<line x1="143.90" y1="474.12" x2="210.60" y2="474.12" stroke="#ebebeb" stroke-width="0.9"/>
<line x1="143.90" y1="493.89" x2="210.60" y2="493.89" stroke="#ebebeb" stroke-width="0.9"/>
<line x1="143.90" y1="513.66" x2="210.60" y2="513.66" stroke="#ebebeb" stroke-width="0.9"/>
<line x1="143.90" y1="533.43" x2="210.60" y2="533.43" stroke="#ebebeb" stroke-width="0.9"/>
<circle cx="193.20" cy="355.50" r="1.6" fill="#ff0000"/>
<circle cx="157.80" cy="375.30" r="1.5" fill="#28f900"/>
<circle cx="167.50" cy="395.10" r="1.5" fill="#bbb900"/>
<circle cx="149.60" cy="414.80" r="1.85" fill="#14fc00"/>
<circle cx="166.00" cy="434.60" r="1.1" fill="#3df500"/>
<circle cx="147.00" cy="454.40" r="3.5" fill="#14fc00"/>
<circle cx="183.80" cy="474.30" r="1.1" fill="#8fdc00"/>
<circle cx="155.70" cy="493.80" r="2.0" fill="#d79800"/>
<circle cx="207.70" cy="513.60" r="1.1" fill="#9fd100"/>
<circle cx="166.00" cy="533.40" r="1.6" fill="#d79800"/>
<rect x="143.90" y="344.30" width="66.70" height="200.90" fill="none" stroke="#4a4a4a" stroke-width="1"/>
<line x1="142.50" y1="355.50" x2="143.90" y2="355.50" stroke="#222" stroke-width="1.0"/>
<line x1="142.50" y1="375.27" x2="143.90" y2="375.27" stroke="#222" stroke-width="1.0"/>
<line x1="142.50" y1="395.04" x2="143.90" y2="395.04" stroke="#222" stroke-width="1.0"/>
<line x1="142.50" y1="414.81" x2="143.90" y2="414.81" stroke="#222" stroke-width="1.0"/>
<line x1="142.50" y1="434.58" x2="143.90" y2="434.58" stroke="#222" stroke-width="1.0"/>
<line x1="142.50" y1="454.35" x2="143.90" y2="454.35" stroke="#222" stroke-width="1.0"/>
<line x1="142.50" y1="474.12" x2="143.90" y2="474.12" stroke="#222" stroke-width="1.0"/>
<line x1="142.50" y1="493.89" x2="143.90" y2="493.89" stroke="#222" stroke-width="1.0"/>
<line x1="142.50" y1="513.66" x2="143.90" y2="513.66" stroke="#222" stroke-width="1.0"/>
<line x1="142.50" y1="533.43" x2="143.90" y2="533.43" stroke="#222" stroke-width="1.0"/>
<text x="140.60" y="357.75" font-size="7.8" stroke="#222" stroke-width="0.12" text-anchor="end" fill="#222">Vitamin B6 metabolism</text>
<text x="26.40" y="377.05" font-size="7.8" stroke="#222" stroke-width="0.12" fill="#222">Ubiquinone and other terpenoid−</text>
<text x="26.40" y="386.35" font-size="7.8" stroke="#222" stroke-width="0.12" fill="#222">quinone biosynthesis</text>
<text x="28.10" y="398.65" font-size="7.8" stroke="#222" stroke-width="0.12" fill="#222">Tropane, piperidine and pyridine</text>
<text x="30.00" y="407.15" font-size="7.8" stroke="#222" stroke-width="0.12" fill="#222">alkaloid biosynthesis</text>
<text x="140.60" y="416.35" font-size="7.8" stroke="#222" stroke-width="0.12" text-anchor="end" fill="#222">Starch and sucrose metabolism</text>
<text x="140.60" y="436.45" font-size="7.8" stroke="#222" stroke-width="0.12" text-anchor="end" fill="#222">Photosynthesis−antenna proteins</text>
<text x="140.60" y="455.95" font-size="7.8" stroke="#222" stroke-width="0.12" text-anchor="end" fill="#222">Metabolic pathways</text>
<text x="140.60" y="476.55" font-size="7.8" stroke="#222" stroke-width="0.12" text-anchor="end" fill="#222">Glycosphingolipid biosynthesis</text>
<text x="140.60" y="495.95" font-size="7.8" stroke="#222" stroke-width="0.12" text-anchor="end" fill="#222">Glutathione metabolism</text>
<text x="140.60" y="515.85" font-size="7.8" stroke="#222" stroke-width="0.12" text-anchor="end" fill="#222">Glucosinolate biosynthesis</text>
<text x="140.60" y="535.45" font-size="7.8" stroke="#222" stroke-width="0.12" text-anchor="end" fill="#222">ABC transporters</text>
<line x1="165.00" y1="545.20" x2="165.00" y2="546.60" stroke="#222" stroke-width="1.0"/>
<text x="165.00" y="553.50" font-size="6.6" stroke="#222" stroke-width="0.1" text-anchor="middle" fill="#222">0.1</text>
<line x1="188.30" y1="545.20" x2="188.30" y2="546.60" stroke="#222" stroke-width="1.0"/>
<text x="188.30" y="553.50" font-size="6.6" stroke="#222" stroke-width="0.1" text-anchor="middle" fill="#222">0.2</text>
<text x="178.30" y="562.20" font-size="7.9" stroke="#222" stroke-width="0.12" text-anchor="middle" fill="#222">RichFactor</text>
<text x="16.40" y="412.50" font-size="10.3" text-anchor="middle" font-weight="bold" fill="#4a4a4a" transform="rotate(-90 16.40 412.50)">Term</text>
<text x="143.10" y="338.80" font-size="7.9" font-weight="bold" fill="#111">UP regulated DEGs</text>
<text x="10.20" y="331.50" font-size="10.0" font-weight="bold" fill="#000">D</text>
<text x="214.00" y="401.90" font-size="6.85" stroke="#222" stroke-width="0.1" fill="#222">Input number</text>
<circle cx="222.50" cy="408.00" r="1.6" fill="#000"/>
<text x="228.90" y="409.55" font-size="4.3" fill="#444">10</text>
<circle cx="222.50" cy="415.70" r="2.2" fill="#000"/>
<text x="228.90" y="417.25" font-size="4.3" fill="#444">20</text>
<circle cx="222.50" cy="423.30" r="2.55" fill="#000"/>
<text x="228.90" y="424.85" font-size="4.3" fill="#444">30</text>
<circle cx="222.50" cy="431.30" r="3.05" fill="#000"/>
<text x="228.90" y="432.85" font-size="4.3" fill="#444">40</text>
<text x="214.00" y="447.50" font-size="6.76" stroke="#222" stroke-width="0.1" fill="#222">−1 * log10(adj P value)</text>
<rect x="218.60" y="453.10" width="8.00" height="38.90" fill="url(#cb)"/>
<line x1="218.60" y1="454.50" x2="219.90" y2="454.50" stroke="#fff" stroke-width="0.5"/>
<line x1="225.30" y1="454.50" x2="226.60" y2="454.50" stroke="#fff" stroke-width="0.5"/>
<text x="228.90" y="456.05" font-size="4.3" fill="#444">1.6</text>
<line x1="218.60" y1="465.70" x2="219.90" y2="465.70" stroke="#fff" stroke-width="0.5"/>
<line x1="225.30" y1="465.70" x2="226.60" y2="465.70" stroke="#fff" stroke-width="0.5"/>
<text x="228.90" y="467.25" font-size="4.3" fill="#444">1.2</text>
<line x1="218.60" y1="478.10" x2="219.90" y2="478.10" stroke="#fff" stroke-width="0.5"/>
<line x1="225.30" y1="478.10" x2="226.60" y2="478.10" stroke="#fff" stroke-width="0.5"/>
<text x="228.90" y="479.65" font-size="4.3" fill="#444">0.8</text>
<line x1="218.60" y1="490.30" x2="219.90" y2="490.30" stroke="#fff" stroke-width="0.5"/>
<line x1="225.30" y1="490.30" x2="226.60" y2="490.30" stroke="#fff" stroke-width="0.5"/>
<text x="228.90" y="491.85" font-size="4.3" fill="#444">0.4</text>
<line x1="390.60" y1="344.10" x2="390.60" y2="544.50" stroke="#f2f2f2" stroke-width="0.6"/>
<line x1="403.30" y1="344.10" x2="403.30" y2="544.50" stroke="#ebebeb" stroke-width="0.9"/>
<line x1="416.00" y1="344.10" x2="416.00" y2="544.50" stroke="#f2f2f2" stroke-width="0.6"/>
<line x1="428.80" y1="344.10" x2="428.80" y2="544.50" stroke="#ebebeb" stroke-width="0.9"/>
<line x1="441.50" y1="344.10" x2="441.50" y2="544.50" stroke="#f2f2f2" stroke-width="0.6"/>
<line x1="454.30" y1="344.10" x2="454.30" y2="544.50" stroke="#ebebeb" stroke-width="0.9"/>
<line x1="467.00" y1="344.10" x2="467.00" y2="544.50" stroke="#f2f2f2" stroke-width="0.6"/>
<line x1="381.50" y1="354.80" x2="473.00" y2="354.80" stroke="#ebebeb" stroke-width="0.9"/>
<line x1="381.50" y1="374.62" x2="473.00" y2="374.62" stroke="#ebebeb" stroke-width="0.9"/>
<line x1="381.50" y1="394.44" x2="473.00" y2="394.44" stroke="#ebebeb" stroke-width="0.9"/>
<line x1="381.50" y1="414.26" x2="473.00" y2="414.26" stroke="#ebebeb" stroke-width="0.9"/>
<line x1="381.50" y1="434.08" x2="473.00" y2="434.08" stroke="#ebebeb" stroke-width="0.9"/>
<line x1="381.50" y1="453.90" x2="473.00" y2="453.90" stroke="#ebebeb" stroke-width="0.9"/>
<line x1="381.50" y1="473.72" x2="473.00" y2="473.72" stroke="#ebebeb" stroke-width="0.9"/>
<line x1="381.50" y1="493.54" x2="473.00" y2="493.54" stroke="#ebebeb" stroke-width="0.9"/>
<line x1="381.50" y1="513.36" x2="473.00" y2="513.36" stroke="#ebebeb" stroke-width="0.9"/>
<line x1="381.50" y1="533.18" x2="473.00" y2="533.18" stroke="#ebebeb" stroke-width="0.9"/>
<circle cx="430.20" cy="354.80" r="1.5" fill="#d79800"/>
<circle cx="469.70" cy="374.60" r="1.8" fill="#ff0000"/>
<circle cx="397.10" cy="394.20" r="1.5" fill="#1efa00"/>
<circle cx="385.30" cy="414.20" r="3.3" fill="#8adf00"/>
<circle cx="390.70" cy="434.00" r="1.65" fill="#14fc00"/>
<circle cx="398.20" cy="453.60" r="1.5" fill="#28f900"/>
<circle cx="385.90" cy="473.40" r="2.9" fill="#83e200"/>
<circle cx="399.30" cy="493.30" r="1.5" fill="#28f900"/>
<circle cx="406.40" cy="513.20" r="1.0" fill="#32f700"/>
<circle cx="394.40" cy="532.90" r="1.5" fill="#1efa00"/>
<rect x="381.50" y="344.10" width="91.50" height="200.40" fill="none" stroke="#4a4a4a" stroke-width="1"/>
<line x1="380.10" y1="354.80" x2="381.50" y2="354.80" stroke="#222" stroke-width="1.0"/>
<line x1="380.10" y1="374.62" x2="381.50" y2="374.62" stroke="#222" stroke-width="1.0"/>
<line x1="380.10" y1="394.44" x2="381.50" y2="394.44" stroke="#222" stroke-width="1.0"/>
<line x1="380.10" y1="414.26" x2="381.50" y2="414.26" stroke="#222" stroke-width="1.0"/>
<line x1="380.10" y1="434.08" x2="381.50" y2="434.08" stroke="#222" stroke-width="1.0"/>
<line x1="380.10" y1="453.90" x2="381.50" y2="453.90" stroke="#222" stroke-width="1.0"/>
<line x1="380.10" y1="473.72" x2="381.50" y2="473.72" stroke="#222" stroke-width="1.0"/>
<line x1="380.10" y1="493.54" x2="381.50" y2="493.54" stroke="#222" stroke-width="1.0"/>
<line x1="380.10" y1="513.36" x2="381.50" y2="513.36" stroke="#222" stroke-width="1.0"/>
<line x1="380.10" y1="533.18" x2="381.50" y2="533.18" stroke="#222" stroke-width="1.0"/>
<text x="377.70" y="357.17" font-size="7.86" stroke="#222" stroke-width="0.12" text-anchor="end" fill="#222">Steroid biosynthesis</text>
<text x="291.00" y="371.67" font-size="7.86" stroke="#222" stroke-width="0.12" fill="#222">Sesquiterpenoid and</text>
<text x="293.20" y="381.17" font-size="7.86" stroke="#222" stroke-width="0.12" fill="#222">triterpenoid biosynthesis</text>
<text x="377.70" y="397.27" font-size="7.86" stroke="#222" stroke-width="0.12" text-anchor="end" fill="#222">Phagosome</text>
<text x="377.70" y="416.87" font-size="7.86" stroke="#222" stroke-width="0.12" text-anchor="end" fill="#222">Metabolic pathways</text>
<text x="318.40" y="432.27" font-size="7.86" stroke="#222" stroke-width="0.12" fill="#222">Glycolysis /</text>
<text x="318.40" y="441.17" font-size="7.86" stroke="#222" stroke-width="0.12" fill="#222">Gluconeogenesis</text>
<text x="377.70" y="456.37" font-size="7.86" stroke="#222" stroke-width="0.12" text-anchor="end" fill="#222">Fatty acid degradation</text>
<text x="287.20" y="473.07" font-size="7.86" stroke="#222" stroke-width="0.12" fill="#222">Biosynthesis of secondary</text>
<text x="289.10" y="482.57" font-size="7.86" stroke="#222" stroke-width="0.12" fill="#222">metabolites</text>
<text x="295.90" y="494.87" font-size="7.86" stroke="#222" stroke-width="0.12" fill="#222">Ascorbate and aldarate</text>
<text x="297.80" y="504.37" font-size="7.86" stroke="#222" stroke-width="0.12" fill="#222">metabolism</text>
<text x="377.70" y="515.67" font-size="7.86" stroke="#222" stroke-width="0.12" text-anchor="end" fill="#222">Arachidonic acid metabolism</text>
<text x="377.70" y="535.77" font-size="7.86" stroke="#222" stroke-width="0.12" text-anchor="end" fill="#222">alpha−Linolenic acid metabolism</text>
<line x1="403.30" y1="544.50" x2="403.30" y2="545.90" stroke="#222" stroke-width="1.0"/>
<text x="403.30" y="553.50" font-size="6.6" stroke="#222" stroke-width="0.1" text-anchor="middle" fill="#222">0.1</text>
<line x1="428.80" y1="544.50" x2="428.80" y2="545.90" stroke="#222" stroke-width="1.0"/>
<text x="428.80" y="553.50" font-size="6.6" stroke="#222" stroke-width="0.1" text-anchor="middle" fill="#222">0.2</text>
<line x1="454.30" y1="544.50" x2="454.30" y2="545.90" stroke="#222" stroke-width="1.0"/>
<text x="454.30" y="553.50" font-size="6.6" stroke="#222" stroke-width="0.1" text-anchor="middle" fill="#222">0.3</text>
<text x="429.70" y="563.00" font-size="7.9" stroke="#222" stroke-width="0.12" text-anchor="middle" fill="#222">RichFactor</text>
<text x="279.80" y="412.60" font-size="10.3" text-anchor="middle" font-weight="bold" fill="#4a4a4a" transform="rotate(-90 279.80 412.60)">Term</text>
<text x="387.70" y="338.80" font-size="7.9" font-weight="bold" fill="#111">DOWN regulated DEGs</text>
<text x="361.50" y="331.40" font-size="10.0" font-weight="bold" fill="#000">E</text>
<text x="477.30" y="403.80" font-size="6.85" stroke="#222" stroke-width="0.1" fill="#222">Input number</text>
<circle cx="485.70" cy="411.20" r="1.9" fill="#000"/>
<text x="491.60" y="412.75" font-size="4.3" fill="#444">20</text>
<circle cx="485.70" cy="418.90" r="2.3" fill="#000"/>
<text x="491.60" y="420.45" font-size="4.3" fill="#444">40</text>
<circle cx="485.70" cy="426.90" r="2.9" fill="#000"/>
<text x="491.60" y="428.45" font-size="4.3" fill="#444">60</text>
<text x="477.30" y="444.60" font-size="6.76" stroke="#222" stroke-width="0.1" fill="#222">−1 * log10(adj P value)</text>
<rect x="481.60" y="448.00" width="8.00" height="39.30" fill="url(#cb)"/>
<line x1="481.60" y1="454.30" x2="482.90" y2="454.30" stroke="#fff" stroke-width="0.5"/>
<line x1="488.30" y1="454.30" x2="489.60" y2="454.30" stroke="#fff" stroke-width="0.5"/>
<text x="492.20" y="455.85" font-size="4.3" fill="#444">5</text>
<line x1="481.60" y1="461.80" x2="482.90" y2="461.80" stroke="#fff" stroke-width="0.5"/>
<line x1="488.30" y1="461.80" x2="489.60" y2="461.80" stroke="#fff" stroke-width="0.5"/>
<text x="492.20" y="463.35" font-size="4.3" fill="#444">4</text>
<line x1="481.60" y1="469.10" x2="482.90" y2="469.10" stroke="#fff" stroke-width="0.5"/>
<line x1="488.30" y1="469.10" x2="489.60" y2="469.10" stroke="#fff" stroke-width="0.5"/>
<text x="492.20" y="470.65" font-size="4.3" fill="#444">3</text>
<line x1="481.60" y1="476.70" x2="482.90" y2="476.70" stroke="#fff" stroke-width="0.5"/>
<line x1="488.30" y1="476.70" x2="489.60" y2="476.70" stroke="#fff" stroke-width="0.5"/>
<text x="492.20" y="478.25" font-size="4.3" fill="#444">2</text>
<line x1="481.60" y1="484.10" x2="482.90" y2="484.10" stroke="#fff" stroke-width="0.5"/>
<line x1="488.30" y1="484.10" x2="489.60" y2="484.10" stroke="#fff" stroke-width="0.5"/>
<text x="492.20" y="485.65" font-size="4.3" fill="#444">1</text>
<line x1="151.50" y1="588.80" x2="151.50" y2="806.30" stroke="#f2f2f2" stroke-width="0.6"/>
<line x1="160.40" y1="588.80" x2="160.40" y2="806.30" stroke="#ebebeb" stroke-width="0.9"/>
<line x1="169.30" y1="588.80" x2="169.30" y2="806.30" stroke="#f2f2f2" stroke-width="0.6"/>
<line x1="178.20" y1="588.80" x2="178.20" y2="806.30" stroke="#ebebeb" stroke-width="0.9"/>
<line x1="187.10" y1="588.80" x2="187.10" y2="806.30" stroke="#f2f2f2" stroke-width="0.6"/>
<line x1="196.00" y1="588.80" x2="196.00" y2="806.30" stroke="#ebebeb" stroke-width="0.9"/>
<line x1="204.90" y1="588.80" x2="204.90" y2="806.30" stroke="#f2f2f2" stroke-width="0.6"/>
<line x1="143.40" y1="601.30" x2="208.60" y2="601.30" stroke="#ebebeb" stroke-width="0.9"/>
<line x1="143.40" y1="622.70" x2="208.60" y2="622.70" stroke="#ebebeb" stroke-width="0.9"/>
<line x1="143.40" y1="644.10" x2="208.60" y2="644.10" stroke="#ebebeb" stroke-width="0.9"/>
<line x1="143.40" y1="665.50" x2="208.60" y2="665.50" stroke="#ebebeb" stroke-width="0.9"/>
<line x1="143.40" y1="686.90" x2="208.60" y2="686.90" stroke="#ebebeb" stroke-width="0.9"/>
<line x1="143.40" y1="708.30" x2="208.60" y2="708.30" stroke="#ebebeb" stroke-width="0.9"/>
<line x1="143.40" y1="729.70" x2="208.60" y2="729.70" stroke="#ebebeb" stroke-width="0.9"/>
<line x1="143.40" y1="751.10" x2="208.60" y2="751.10" stroke="#ebebeb" stroke-width="0.9"/>
<line x1="143.40" y1="772.50" x2="208.60" y2="772.50" stroke="#ebebeb" stroke-width="0.9"/>
<line x1="143.40" y1="793.90" x2="208.60" y2="793.90" stroke="#ebebeb" stroke-width="0.9"/>
<circle cx="181.20" cy="601.40" r="1.9" fill="#1efa00"/>
<circle cx="146.20" cy="622.70" r="2.6" fill="#14fc00"/>
<circle cx="163.50" cy="644.30" r="2.6" fill="#65ef00"/>
<circle cx="150.70" cy="665.60" r="3.5" fill="#a4ce00"/>
<circle cx="166.20" cy="687.00" r="3.95" fill="#ff0000"/>
<circle cx="196.00" cy="708.50" r="1.1" fill="#1efa00"/>
<circle cx="152.80" cy="729.70" r="2.1" fill="#1efa00"/>
<circle cx="146.70" cy="751.10" r="2.6" fill="#1efa00"/>
<circle cx="163.80" cy="772.70" r="1.9" fill="#28f900"/>
<circle cx="206.00" cy="793.80" r="2.4" fill="#b8bd00"/>
<rect x="143.40" y="588.80" width="65.20" height="217.50" fill="none" stroke="#4a4a4a" stroke-width="1"/>
<line x1="142.00" y1="601.30" x2="143.40" y2="601.30" stroke="#222" stroke-width="1.0"/>
<line x1="142.00" y1="622.70" x2="143.40" y2="622.70" stroke="#222" stroke-width="1.0"/>
<line x1="142.00" y1="644.10" x2="143.40" y2="644.10" stroke="#222" stroke-width="1.0"/>
<line x1="142.00" y1="665.50" x2="143.40" y2="665.50" stroke="#222" stroke-width="1.0"/>
<line x1="142.00" y1="686.90" x2="143.40" y2="686.90" stroke="#222" stroke-width="1.0"/>
<line x1="142.00" y1="708.30" x2="143.40" y2="708.30" stroke="#222" stroke-width="1.0"/>
<line x1="142.00" y1="729.70" x2="143.40" y2="729.70" stroke="#222" stroke-width="1.0"/>
<line x1="142.00" y1="751.10" x2="143.40" y2="751.10" stroke="#222" stroke-width="1.0"/>
<line x1="142.00" y1="772.50" x2="143.40" y2="772.50" stroke="#222" stroke-width="1.0"/>
<line x1="142.00" y1="793.90" x2="143.40" y2="793.90" stroke="#222" stroke-width="1.0"/>
<text x="27.30" y="603.70" font-size="7.95" stroke="#222" stroke-width="0.12" fill="#222">Tropane, piperidine and pyridine</text>
<text x="29.20" y="613.20" font-size="7.95" stroke="#222" stroke-width="0.12" fill="#222">alkaloid biosynthesis</text>
<text x="140.60" y="625.50" font-size="7.95" stroke="#222" stroke-width="0.12" text-anchor="end" fill="#222">Starch and sucrose metabolism</text>
<text x="140.60" y="646.30" font-size="7.95" stroke="#222" stroke-width="0.12" text-anchor="end" fill="#222">Ribosome biogenesis in eukaryotes</text>
<text x="140.60" y="668.10" font-size="7.95" stroke="#222" stroke-width="0.12" text-anchor="end" fill="#222">Ribosome</text>
<text x="140.60" y="688.70" font-size="7.95" stroke="#222" stroke-width="0.12" text-anchor="end" fill="#222">Plant−pathogen interaction</text>
<text x="140.60" y="711.80" font-size="7.95" stroke="#222" stroke-width="0.12" text-anchor="end" fill="#222">Glycosphingolipid biosynthesis</text>
<text x="140.60" y="732.80" font-size="7.95" stroke="#222" stroke-width="0.12" text-anchor="end" fill="#222">Glycosphingolipid biosynthesis</text>
<text x="140.60" y="753.30" font-size="7.95" stroke="#222" stroke-width="0.12" text-anchor="end" fill="#222">Glutathione metabolism</text>
<text x="72.30" y="771.00" font-size="7.95" stroke="#222" stroke-width="0.12" fill="#222">Cutin, suberine and</text>
<text x="74.20" y="780.00" font-size="7.95" stroke="#222" stroke-width="0.12" fill="#222">wax biosynthesis</text>
<text x="140.60" y="796.40" font-size="7.95" stroke="#222" stroke-width="0.12" text-anchor="end" fill="#222">Brassinosteroid biosynthesis</text>
<line x1="160.40" y1="806.30" x2="160.40" y2="807.70" stroke="#222" stroke-width="1.0"/>
<text x="160.40" y="815.00" font-size="6.6" stroke="#222" stroke-width="0.1" text-anchor="middle" fill="#222">0.05</text>
<line x1="178.20" y1="806.30" x2="178.20" y2="807.70" stroke="#222" stroke-width="1.0"/>
<text x="178.20" y="815.00" font-size="6.6" stroke="#222" stroke-width="0.1" text-anchor="middle" fill="#222">0.07</text>
<line x1="196.00" y1="806.30" x2="196.00" y2="807.70" stroke="#222" stroke-width="1.0"/>
<text x="196.00" y="815.00" font-size="6.6" stroke="#222" stroke-width="0.1" text-anchor="middle" fill="#222">0.09</text>
<text x="178.30" y="824.60" font-size="7.9" stroke="#222" stroke-width="0.12" text-anchor="middle" fill="#222">RichFactor</text>
<text x="16.40" y="669.70" font-size="10.3" text-anchor="middle" font-weight="bold" fill="#4a4a4a" transform="rotate(-90 16.40 669.70)">Term</text>
<text x="142.60" y="584.30" font-size="7.9" font-weight="bold" fill="#111">UP regulated DEGs</text>
<text x="11.00" y="575.40" font-size="10.0" font-weight="bold" fill="#000">F</text>
<circle cx="222.00" cy="719.70" r="2.2" fill="#000"/>
<text x="229.40" y="721.25" font-size="4.3" fill="#444">3</text>
<circle cx="222.00" cy="728.20" r="2.75" fill="#000"/>
<text x="229.40" y="729.75" font-size="4.3" fill="#444">6</text>
<circle cx="222.00" cy="736.90" r="3.2" fill="#000"/>
<text x="229.40" y="738.45" font-size="4.3" fill="#444">9</text>
<circle cx="222.00" cy="745.60" r="3.8" fill="#000"/>
<text x="229.40" y="747.15" font-size="4.3" fill="#444">12</text>
<text x="212.00" y="646.90" font-size="6.76" stroke="#222" stroke-width="0.1" fill="#222">−1 * log10(adj P value)</text>
<rect x="217.80" y="654.00" width="9.00" height="42.90" fill="url(#cb)"/>
<line x1="217.80" y1="655.50" x2="219.10" y2="655.50" stroke="#fff" stroke-width="0.5"/>
<line x1="225.50" y1="655.50" x2="226.80" y2="655.50" stroke="#fff" stroke-width="0.5"/>
<text x="229.00" y="657.05" font-size="4.3" fill="#444">1.6</text>
<line x1="217.80" y1="667.10" x2="219.10" y2="667.10" stroke="#fff" stroke-width="0.5"/>
<line x1="225.50" y1="667.10" x2="226.80" y2="667.10" stroke="#fff" stroke-width="0.5"/>
<text x="229.00" y="668.65" font-size="4.3" fill="#444">1.2</text>
<line x1="217.80" y1="678.40" x2="219.10" y2="678.40" stroke="#fff" stroke-width="0.5"/>
<line x1="225.50" y1="678.40" x2="226.80" y2="678.40" stroke="#fff" stroke-width="0.5"/>
<text x="229.00" y="679.95" font-size="4.3" fill="#444">0.8</text>
<line x1="217.80" y1="689.60" x2="219.10" y2="689.60" stroke="#fff" stroke-width="0.5"/>
<line x1="225.50" y1="689.60" x2="226.80" y2="689.60" stroke="#fff" stroke-width="0.5"/>
<text x="229.00" y="691.15" font-size="4.3" fill="#444">0.4</text>
<line x1="402.90" y1="587.80" x2="402.90" y2="805.70" stroke="#f2f2f2" stroke-width="0.6"/>
<line x1="412.30" y1="587.80" x2="412.30" y2="805.70" stroke="#ebebeb" stroke-width="0.9"/>
<line x1="421.90" y1="587.80" x2="421.90" y2="805.70" stroke="#f2f2f2" stroke-width="0.6"/>
<line x1="431.30" y1="587.80" x2="431.30" y2="805.70" stroke="#ebebeb" stroke-width="0.9"/>
<line x1="440.90" y1="587.80" x2="440.90" y2="805.70" stroke="#f2f2f2" stroke-width="0.6"/>
<line x1="450.40" y1="587.80" x2="450.40" y2="805.70" stroke="#ebebeb" stroke-width="0.9"/>
<line x1="460.00" y1="587.80" x2="460.00" y2="805.70" stroke="#f2f2f2" stroke-width="0.6"/>
<line x1="394.50" y1="600.50" x2="465.20" y2="600.50" stroke="#ebebeb" stroke-width="0.9"/>
<line x1="394.50" y1="621.90" x2="465.20" y2="621.90" stroke="#ebebeb" stroke-width="0.9"/>
<line x1="394.50" y1="643.30" x2="465.20" y2="643.30" stroke="#ebebeb" stroke-width="0.9"/>
<line x1="394.50" y1="664.70" x2="465.20" y2="664.70" stroke="#ebebeb" stroke-width="0.9"/>
<line x1="394.50" y1="686.10" x2="465.20" y2="686.10" stroke="#ebebeb" stroke-width="0.9"/>
<line x1="394.50" y1="707.50" x2="465.20" y2="707.50" stroke="#ebebeb" stroke-width="0.9"/>
<line x1="394.50" y1="728.90" x2="465.20" y2="728.90" stroke="#ebebeb" stroke-width="0.9"/>
<line x1="394.50" y1="750.30" x2="465.20" y2="750.30" stroke="#ebebeb" stroke-width="0.9"/>
<line x1="394.50" y1="771.70" x2="465.20" y2="771.70" stroke="#ebebeb" stroke-width="0.9"/>
<line x1="394.50" y1="793.10" x2="465.20" y2="793.10" stroke="#ebebeb" stroke-width="0.9"/>
<circle cx="405.90" cy="600.50" r="1.6" fill="#1efa00"/>
<circle cx="414.30" cy="621.90" r="1.6" fill="#1efa00"/>
<circle cx="418.60" cy="643.30" r="1.6" fill="#28f900"/>
<circle cx="462.10" cy="664.70" r="1.8" fill="#ff0000"/>
<circle cx="409.40" cy="686.00" r="1.6" fill="#28f900"/>
<circle cx="397.70" cy="707.60" r="3.4" fill="#8adf00"/>
<circle cx="447.30" cy="728.90" r="1.1" fill="#1efa00"/>
<circle cx="409.20" cy="750.30" r="1.6" fill="#1efa00"/>
<circle cx="399.00" cy="771.90" r="3.0" fill="#b4c000"/>
<circle cx="407.60" cy="793.30" r="1.5" fill="#1efa00"/>
<rect x="394.50" y="587.80" width="70.70" height="217.90" fill="none" stroke="#4a4a4a" stroke-width="1"/>
<line x1="393.10" y1="600.50" x2="394.50" y2="600.50" stroke="#222" stroke-width="1.0"/>
<line x1="393.10" y1="621.90" x2="394.50" y2="621.90" stroke="#222" stroke-width="1.0"/>
<line x1="393.10" y1="643.30" x2="394.50" y2="643.30" stroke="#222" stroke-width="1.0"/>
<line x1="393.10" y1="664.70" x2="394.50" y2="664.70" stroke="#222" stroke-width="1.0"/>
<line x1="393.10" y1="686.10" x2="394.50" y2="686.10" stroke="#222" stroke-width="1.0"/>
<line x1="393.10" y1="707.50" x2="394.50" y2="707.50" stroke="#222" stroke-width="1.0"/>
<line x1="393.10" y1="728.90" x2="394.50" y2="728.90" stroke="#222" stroke-width="1.0"/>
<line x1="393.10" y1="750.30" x2="394.50" y2="750.30" stroke="#222" stroke-width="1.0"/>
<line x1="393.10" y1="771.70" x2="394.50" y2="771.70" stroke="#222" stroke-width="1.0"/>
<line x1="393.10" y1="793.10" x2="394.50" y2="793.10" stroke="#222" stroke-width="1.0"/>
<text x="286.80" y="602.77" font-size="7.86" stroke="#222" stroke-width="0.12" fill="#222">Valine, leucine and isoleucine</text>
<text x="288.60" y="612.17" font-size="7.86" stroke="#222" stroke-width="0.12" fill="#222">degradation</text>
<text x="391.50" y="623.17" font-size="7.86" stroke="#222" stroke-width="0.12" text-anchor="end" fill="#222">Tryptophan metabolism</text>
<text x="391.50" y="644.47" font-size="7.86" stroke="#222" stroke-width="0.12" text-anchor="end" fill="#222">Steroid biosynthesis</text>
<text x="305.10" y="661.77" font-size="7.86" stroke="#222" stroke-width="0.12" fill="#222">Sesquiterpenoid and</text>
<text x="307.20" y="671.27" font-size="7.86" stroke="#222" stroke-width="0.12" fill="#222">triterpenoid biosynthesis</text>
<text x="391.50" y="687.77" font-size="7.86" stroke="#222" stroke-width="0.12" text-anchor="end" fill="#222">Propanoate metabolism</text>
<text x="391.50" y="709.67" font-size="7.86" stroke="#222" stroke-width="0.12" text-anchor="end" fill="#222">Metabolic pathway</text>
<text x="391.50" y="730.97" font-size="7.86" stroke="#222" stroke-width="0.12" text-anchor="end" fill="#222">Glucosinolate biosynthesis</text>
<text x="391.50" y="753.47" font-size="7.86" stroke="#222" stroke-width="0.12" text-anchor="end" fill="#222">Diterpenoid biosynthesis</text>
<text x="300.00" y="774.27" font-size="7.86" stroke="#222" stroke-width="0.12" fill="#222">Biosynthesis of secondary</text>
<text x="301.90" y="783.17" font-size="7.86" stroke="#222" stroke-width="0.12" fill="#222">metabolites</text>
<text x="391.50" y="795.97" font-size="7.86" stroke="#222" stroke-width="0.12" text-anchor="end" fill="#222">ABC transporters</text>
<line x1="412.30" y1="805.70" x2="412.30" y2="807.10" stroke="#222" stroke-width="1.0"/>
<text x="412.30" y="814.40" font-size="6.6" stroke="#222" stroke-width="0.1" text-anchor="middle" fill="#222">0.1</text>
<line x1="431.30" y1="805.70" x2="431.30" y2="807.10" stroke="#222" stroke-width="1.0"/>
<text x="431.30" y="814.40" font-size="6.6" stroke="#222" stroke-width="0.1" text-anchor="middle" fill="#222">0.2</text>
<line x1="450.40" y1="805.70" x2="450.40" y2="807.10" stroke="#222" stroke-width="1.0"/>
<text x="450.40" y="814.40" font-size="6.6" stroke="#222" stroke-width="0.1" text-anchor="middle" fill="#222">0.3</text>
<text x="432.80" y="823.80" font-size="7.9" stroke="#222" stroke-width="0.12" text-anchor="middle" fill="#222">RichFactor</text>
<text x="271.30" y="670.00" font-size="10.3" text-anchor="middle" font-weight="bold" fill="#4a4a4a" transform="rotate(-90 271.30 670.00)">Term</text>
<text x="390.60" y="582.90" font-size="7.9" font-weight="bold" fill="#111">DOWN regulated DEGs</text>
<text x="360.60" y="575.50" font-size="10.0" font-weight="bold" fill="#000">G</text>
<text x="473.50" y="653.20" font-size="6.85" stroke="#222" stroke-width="0.1" fill="#222">Input number</text>
<circle cx="478.00" cy="661.00" r="2.3" fill="#000"/>
<text x="485.00" y="662.55" font-size="4.3" fill="#444">20</text>
<circle cx="478.00" cy="669.80" r="2.8" fill="#000"/>
<text x="485.00" y="671.35" font-size="4.3" fill="#444">40</text>
<circle cx="478.00" cy="678.70" r="3.4" fill="#000"/>
<text x="485.00" y="680.25" font-size="4.3" fill="#444">60</text>
<text x="469.00" y="697.20" font-size="6.76" stroke="#222" stroke-width="0.1" fill="#222">−1 * log10(adj P value)</text>
<rect x="473.90" y="701.40" width="8.20" height="43.50" fill="url(#cb)"/>
<line x1="473.90" y1="708.00" x2="475.20" y2="708.00" stroke="#fff" stroke-width="0.5"/>
<line x1="480.80" y1="708.00" x2="482.10" y2="708.00" stroke="#fff" stroke-width="0.5"/>
<text x="485.80" y="709.55" font-size="4.3" fill="#444">5</text>
<line x1="473.90" y1="716.60" x2="475.20" y2="716.60" stroke="#fff" stroke-width="0.5"/>
<line x1="480.80" y1="716.60" x2="482.10" y2="716.60" stroke="#fff" stroke-width="0.5"/>
<text x="485.80" y="718.15" font-size="4.3" fill="#444">4</text>
<line x1="473.90" y1="725.10" x2="475.20" y2="725.10" stroke="#fff" stroke-width="0.5"/>
<line x1="480.80" y1="725.10" x2="482.10" y2="725.10" stroke="#fff" stroke-width="0.5"/>
<text x="485.80" y="726.65" font-size="4.3" fill="#444">3</text>
<line x1="473.90" y1="733.30" x2="475.20" y2="733.30" stroke="#fff" stroke-width="0.5"/>
<line x1="480.80" y1="733.30" x2="482.10" y2="733.30" stroke="#fff" stroke-width="0.5"/>
<text x="485.80" y="734.85" font-size="4.3" fill="#444">2</text>
<line x1="473.90" y1="741.50" x2="475.20" y2="741.50" stroke="#fff" stroke-width="0.5"/>
<line x1="480.80" y1="741.50" x2="482.10" y2="741.50" stroke="#fff" stroke-width="0.5"/>
<text x="485.80" y="743.05" font-size="4.3" fill="#444">1</text>
</svg>
</body></html>
